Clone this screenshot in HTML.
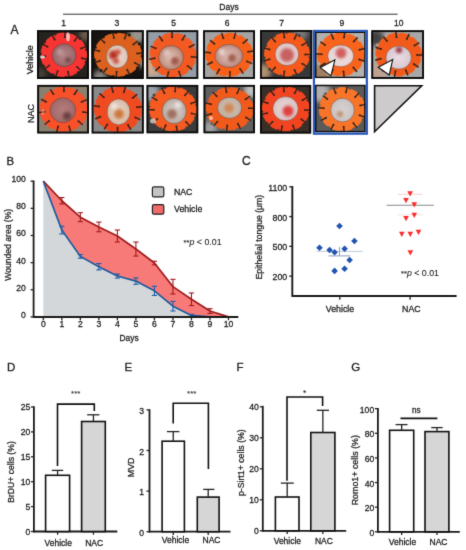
<!DOCTYPE html>
<html><head><meta charset="utf-8"><style>
html,body{margin:0;padding:0;background:#fff;width:466px;height:550px;overflow:hidden}
svg{display:block;will-change:transform}
text{font-family:"Liberation Sans", sans-serif;stroke:#222;stroke-width:0.27px}
</style></head><body>
<svg width="466" height="550" viewBox="0 0 466 550">
<defs><filter id="gblur" x="0" y="0" width="466" height="550" filterUnits="userSpaceOnUse" color-interpolation-filters="sRGB"><feConvolveMatrix order="3" kernelMatrix="0.0114 0.084 0.0114 0.084 0.618 0.084 0.0114 0.084 0.0114" divisor="1" edgeMode="duplicate"/></filter></defs>
<rect width="466" height="550" fill="#fff"/>
<g filter="url(#gblur)">
<text x="10.50" y="33.50" font-size="12.1" text-anchor="start" fill="#222" style="stroke-width:0.3px">A</text>
<text x="229.00" y="10.20" font-size="8.5" text-anchor="middle" fill="#222" >Days</text>
<line x1="63.00" y1="14.20" x2="397.60" y2="14.20" stroke="#333" stroke-width="1.0" />
<text x="63.50" y="25.80" font-size="8.5" text-anchor="middle" fill="#222" >1</text>
<text x="116.90" y="25.80" font-size="8.5" text-anchor="middle" fill="#222" >3</text>
<text x="173.60" y="25.80" font-size="8.5" text-anchor="middle" fill="#222" >5</text>
<text x="227.20" y="25.80" font-size="8.5" text-anchor="middle" fill="#222" >6</text>
<text x="281.70" y="25.80" font-size="8.5" text-anchor="middle" fill="#222" >7</text>
<text x="341.80" y="25.80" font-size="8.5" text-anchor="middle" fill="#222" >9</text>
<text x="398.70" y="25.80" font-size="8.5" text-anchor="middle" fill="#222" >10</text>
<text x="0" y="0" font-size="9" text-anchor="middle" fill="#222" transform="translate(30.00,59.70) rotate(-90)" dy="3.15">Vehicle</text>
<text x="0" y="0" font-size="9" text-anchor="middle" fill="#222" transform="translate(31.10,113.60) rotate(-90)" dy="3.15">NAC</text>
<defs><filter id="fb" x="-50%" y="-50%" width="200%" height="200%"><feGaussianBlur stdDeviation="2.5"/></filter><filter id="fs" x="-50%" y="-50%" width="200%" height="200%"><feGaussianBlur stdDeviation="1.5"/></filter>
<clipPath id="cp0"><rect x="37.0" y="30.2" width="52.00" height="48.70"/></clipPath>
<radialGradient id="cg0" cx="0.5" cy="0.5" r="0.55"><stop offset="0" stop-color="#b48488"/><stop offset="0.65" stop-color="#a17073"/><stop offset="1" stop-color="#8e5c5e"/></radialGradient>
<clipPath id="ci0"><ellipse cx="64.1" cy="55.2" rx="12" ry="11.5"/></clipPath>
<clipPath id="cp1"><rect x="91.3" y="30.2" width="52.50" height="48.70"/></clipPath>
<radialGradient id="cg1" cx="0.5" cy="0.5" r="0.55"><stop offset="0" stop-color="#ecdcd0"/><stop offset="0.65" stop-color="#e2ccbe"/><stop offset="1" stop-color="#d8bcac"/></radialGradient>
<clipPath id="ci1"><ellipse cx="117.2" cy="56.5" rx="10.8" ry="11.5"/></clipPath>
<clipPath id="cp2"><rect x="146.3" y="30.2" width="52.00" height="48.70"/></clipPath>
<radialGradient id="cg2" cx="0.5" cy="0.5" r="0.55"><stop offset="0" stop-color="#e0c0b4"/><stop offset="0.65" stop-color="#c89c8e"/><stop offset="1" stop-color="#b07868"/></radialGradient>
<clipPath id="ci2"><ellipse cx="171" cy="57.6" rx="12.4" ry="12.1"/></clipPath>
<clipPath id="cp3"><rect x="203.1" y="30.2" width="51.90" height="48.70"/></clipPath>
<radialGradient id="cg3" cx="0.5" cy="0.5" r="0.55"><stop offset="0" stop-color="#e0c0b8"/><stop offset="0.65" stop-color="#c89c94"/><stop offset="1" stop-color="#b07870"/></radialGradient>
<clipPath id="ci3"><ellipse cx="228.9" cy="55.9" rx="14" ry="11.6"/></clipPath>
<clipPath id="cp4"><rect x="260.0" y="30.0" width="52.30" height="48.90"/></clipPath>
<radialGradient id="cg4" cx="0.5" cy="0.5" r="0.55"><stop offset="0" stop-color="#ead8d8"/><stop offset="0.65" stop-color="#e3cccc"/><stop offset="1" stop-color="#dcc0c0"/></radialGradient>
<clipPath id="ci4"><ellipse cx="286.9" cy="54.2" rx="11.8" ry="11.3"/></clipPath>
<clipPath id="cp5"><rect x="315.1" y="31.6" width="50.50" height="46.50"/></clipPath>
<radialGradient id="cg5" cx="0.5" cy="0.5" r="0.55"><stop offset="0" stop-color="#f0e4e4"/><stop offset="0.65" stop-color="#ead8d8"/><stop offset="1" stop-color="#e4cccc"/></radialGradient>
<clipPath id="ci5"><ellipse cx="340.7" cy="55.9" rx="13" ry="10.9"/></clipPath>
<clipPath id="cp6"><rect x="371.3" y="30.2" width="52.70" height="48.70"/></clipPath>
<radialGradient id="cg6" cx="0.5" cy="0.5" r="0.55"><stop offset="0" stop-color="#e8dce2"/><stop offset="0.65" stop-color="#decfd6"/><stop offset="1" stop-color="#d4c2ca"/></radialGradient>
<clipPath id="ci6"><ellipse cx="398.6" cy="57.6" rx="12.7" ry="11.5"/></clipPath>
<clipPath id="cp7"><rect x="37.2" y="84.9" width="51.80" height="48.60"/></clipPath>
<radialGradient id="cg7" cx="0.5" cy="0.5" r="0.55"><stop offset="0" stop-color="#b47c7c"/><stop offset="0.65" stop-color="#a76f6f"/><stop offset="1" stop-color="#9a6262"/></radialGradient>
<clipPath id="ci7"><ellipse cx="62.9" cy="110.2" rx="12.7" ry="12.4"/></clipPath>
<clipPath id="cp8"><rect x="91.6" y="84.9" width="52.20" height="48.60"/></clipPath>
<radialGradient id="cg8" cx="0.5" cy="0.5" r="0.55"><stop offset="0" stop-color="#e8d8cc"/><stop offset="0.65" stop-color="#dcc4b2"/><stop offset="1" stop-color="#d0b098"/></radialGradient>
<clipPath id="ci8"><ellipse cx="118.6" cy="111.9" rx="11.5" ry="13"/></clipPath>
<clipPath id="cp9"><rect x="146.5" y="84.9" width="51.80" height="48.40"/></clipPath>
<radialGradient id="cg9" cx="0.5" cy="0.5" r="0.55"><stop offset="0" stop-color="#d8d0cc"/><stop offset="0.65" stop-color="#c4b8b2"/><stop offset="1" stop-color="#b0a098"/></radialGradient>
<clipPath id="ci9"><ellipse cx="174.2" cy="111" rx="12.1" ry="12.7"/></clipPath>
<clipPath id="cp10"><rect x="203.5" y="84.9" width="51.50" height="48.40"/></clipPath>
<radialGradient id="cg10" cx="0.5" cy="0.5" r="0.55"><stop offset="0" stop-color="#d0c4b8"/><stop offset="0.65" stop-color="#c4b6a8"/><stop offset="1" stop-color="#b8a898"/></radialGradient>
<clipPath id="ci10"><ellipse cx="229.6" cy="107.8" rx="12.1" ry="10.6"/></clipPath>
<clipPath id="cp11"><rect x="260.0" y="84.9" width="51.20" height="48.70"/></clipPath>
<radialGradient id="cg11" cx="0.5" cy="0.5" r="0.55"><stop offset="0" stop-color="#e8d8d8"/><stop offset="0.65" stop-color="#decaca"/><stop offset="1" stop-color="#d4bcbc"/></radialGradient>
<clipPath id="ci11"><ellipse cx="285.5" cy="108.7" rx="12.7" ry="12.1"/></clipPath>
<clipPath id="cp12"><rect x="315.1" y="84.8" width="50.50" height="47.50"/></clipPath>
<radialGradient id="cg12" cx="0.5" cy="0.5" r="0.55"><stop offset="0" stop-color="#d8d2d2"/><stop offset="0.65" stop-color="#cec7c7"/><stop offset="1" stop-color="#c4bcbc"/></radialGradient>
<clipPath id="ci12"><ellipse cx="342.5" cy="110.1" rx="11.8" ry="11.8"/></clipPath>
</defs>
<g clip-path="url(#cp0)">
<rect x="37.0" y="30.2" width="52.00" height="48.70" fill="#26231f"/>
<circle cx="86" cy="34" r="7" fill="#6a5a4a" filter="url(#fb)"/>
<circle cx="40" cy="74" r="6" fill="#4a4038" filter="url(#fb)"/>
<ellipse cx="63.8" cy="54.8" rx="23.3" ry="22.3" fill="#f63432"/>
<line x1="81.93" y1="58.28" x2="86.93" y2="59.29" stroke="#221a18" stroke-width="1.5" stroke-linecap="round" opacity="0.85"/>
<circle cx="81.93" cy="58.28" r="1.0" fill="#2e2622" opacity="0.8"/>
<circle cx="86.03" cy="62.09" r="1.5" fill="#26231f" opacity="0.9"/>
<line x1="77.07" y1="67.00" x2="80.72" y2="70.55" stroke="#221a18" stroke-width="1.5" stroke-linecap="round" opacity="0.85"/>
<circle cx="77.07" cy="67.00" r="1.0" fill="#2e2622" opacity="0.8"/>
<circle cx="78.39" cy="72.44" r="1.5" fill="#26231f" opacity="0.9"/>
<line x1="67.99" y1="71.85" x2="69.14" y2="76.81" stroke="#221a18" stroke-width="1.5" stroke-linecap="round" opacity="0.85"/>
<circle cx="67.99" cy="71.85" r="1.0" fill="#2e2622" opacity="0.8"/>
<circle cx="66.11" cy="77.19" r="1.5" fill="#26231f" opacity="0.9"/>
<line x1="57.58" y1="71.28" x2="55.87" y2="76.09" stroke="#221a18" stroke-width="1.5" stroke-linecap="round" opacity="0.85"/>
<circle cx="57.58" cy="71.28" r="1.0" fill="#2e2622" opacity="0.8"/>
<circle cx="53.10" cy="74.83" r="1.5" fill="#26231f" opacity="0.9"/>
<line x1="49.15" y1="65.49" x2="45.11" y2="68.60" stroke="#221a18" stroke-width="1.5" stroke-linecap="round" opacity="0.85"/>
<circle cx="49.15" cy="65.49" r="1.0" fill="#2e2622" opacity="0.8"/>
<circle cx="43.49" cy="66.11" r="1.5" fill="#26231f" opacity="0.9"/>
<line x1="45.37" y1="56.30" x2="40.29" y2="56.73" stroke="#221a18" stroke-width="1.5" stroke-linecap="round" opacity="0.85"/>
<circle cx="45.37" cy="56.30" r="1.0" fill="#2e2622" opacity="0.8"/>
<circle cx="40.32" cy="53.80" r="1.5" fill="#26231f" opacity="0.9"/>
<line x1="47.44" y1="46.63" x2="42.93" y2="44.25" stroke="#221a18" stroke-width="1.5" stroke-linecap="round" opacity="0.85"/>
<circle cx="47.44" cy="46.63" r="1.0" fill="#2e2622" opacity="0.8"/>
<circle cx="44.61" cy="41.81" r="1.5" fill="#26231f" opacity="0.9"/>
<line x1="54.70" y1="39.56" x2="52.20" y2="35.12" stroke="#221a18" stroke-width="1.5" stroke-linecap="round" opacity="0.85"/>
<circle cx="54.70" cy="39.56" r="1.0" fill="#2e2622" opacity="0.8"/>
<circle cx="55.00" cy="33.94" r="1.5" fill="#26231f" opacity="0.9"/>
<line x1="64.86" y1="37.33" x2="65.15" y2="32.24" stroke="#221a18" stroke-width="1.5" stroke-linecap="round" opacity="0.85"/>
<circle cx="64.86" cy="37.33" r="1.0" fill="#2e2622" opacity="0.8"/>
<circle cx="68.17" cy="32.69" r="1.5" fill="#26231f" opacity="0.9"/>
<line x1="74.68" y1="40.64" x2="77.67" y2="36.52" stroke="#221a18" stroke-width="1.5" stroke-linecap="round" opacity="0.85"/>
<circle cx="74.68" cy="40.64" r="1.0" fill="#2e2622" opacity="0.8"/>
<circle cx="79.96" cy="38.47" r="1.5" fill="#26231f" opacity="0.9"/>
<line x1="81.04" y1="48.45" x2="85.79" y2="46.60" stroke="#221a18" stroke-width="1.5" stroke-linecap="round" opacity="0.85"/>
<circle cx="81.04" cy="48.45" r="1.0" fill="#2e2622" opacity="0.8"/>
<circle cx="86.62" cy="49.43" r="1.5" fill="#26231f" opacity="0.9"/>
<ellipse cx="42.5" cy="57" rx="2.6" ry="1.6" fill="#ffffff" opacity="0.75"/>
<ellipse cx="68" cy="36.7" rx="1.8" ry="4.5" fill="#ffe8e8" opacity="0.75"/>
<ellipse cx="64.1" cy="55.2" rx="12" ry="11.5" fill="url(#cg0)"/>
<g clip-path="url(#ci0)">
<circle cx="60" cy="52" r="3" fill="#c09a9a" filter="url(#fs)"/>
<circle cx="68" cy="60" r="3" fill="#7a4a4a" filter="url(#fs)"/>
</g>
<ellipse cx="64.1" cy="55.2" rx="12" ry="11.5" fill="none" stroke="#5a3830" stroke-width="0.8" opacity="0.5"/>
</g>
<rect x="37.95" y="31.15" width="50.10" height="46.80" fill="none" stroke="#0c0c0c" stroke-width="1.9"/>
<g clip-path="url(#cp1)">
<rect x="91.3" y="30.2" width="52.50" height="48.70" fill="#161412"/>
<circle cx="137" cy="35" r="9" fill="#9a948c" filter="url(#fb)"/>
<circle cx="100" cy="77" r="7" fill="#8a8480" filter="url(#fb)"/>
<circle cx="144" cy="62" r="6" fill="#b0aaa0" filter="url(#fb)"/>
<ellipse cx="118" cy="54.7" rx="24" ry="22" fill="#dc601e"/>
<line x1="134.85" y1="62.95" x2="139.33" y2="65.39" stroke="#221a18" stroke-width="1.5" stroke-linecap="round" opacity="0.85"/>
<circle cx="134.85" cy="62.95" r="1.0" fill="#2e2622" opacity="0.8"/>
<circle cx="137.55" cy="67.78" r="1.5" fill="#161412" opacity="0.9"/>
<line x1="127.20" y1="69.80" x2="129.64" y2="74.27" stroke="#221a18" stroke-width="1.5" stroke-linecap="round" opacity="0.85"/>
<circle cx="127.20" cy="69.80" r="1.0" fill="#2e2622" opacity="0.8"/>
<circle cx="126.74" cy="75.40" r="1.5" fill="#161412" opacity="0.9"/>
<line x1="116.63" y1="71.86" x2="116.26" y2="76.94" stroke="#221a18" stroke-width="1.5" stroke-linecap="round" opacity="0.85"/>
<circle cx="116.63" cy="71.86" r="1.0" fill="#2e2622" opacity="0.8"/>
<circle cx="113.15" cy="76.45" r="1.5" fill="#161412" opacity="0.9"/>
<line x1="106.49" y1="68.47" x2="103.43" y2="72.55" stroke="#221a18" stroke-width="1.5" stroke-linecap="round" opacity="0.85"/>
<circle cx="106.49" cy="68.47" r="1.0" fill="#2e2622" opacity="0.8"/>
<circle cx="101.10" cy="70.59" r="1.5" fill="#161412" opacity="0.9"/>
<line x1="100.01" y1="60.71" x2="95.23" y2="62.49" stroke="#221a18" stroke-width="1.5" stroke-linecap="round" opacity="0.85"/>
<circle cx="100.01" cy="60.71" r="1.0" fill="#2e2622" opacity="0.8"/>
<circle cx="94.42" cy="59.69" r="1.5" fill="#161412" opacity="0.9"/>
<line x1="99.24" y1="51.04" x2="94.26" y2="49.96" stroke="#221a18" stroke-width="1.5" stroke-linecap="round" opacity="0.85"/>
<circle cx="99.24" cy="51.04" r="1.0" fill="#2e2622" opacity="0.8"/>
<circle cx="95.22" cy="47.20" r="1.5" fill="#161412" opacity="0.9"/>
<line x1="104.43" y1="42.54" x2="100.82" y2="38.93" stroke="#221a18" stroke-width="1.5" stroke-linecap="round" opacity="0.85"/>
<circle cx="104.43" cy="42.54" r="1.0" fill="#2e2622" opacity="0.8"/>
<circle cx="103.25" cy="37.10" r="1.5" fill="#161412" opacity="0.9"/>
<line x1="113.92" y1="37.89" x2="112.84" y2="32.91" stroke="#221a18" stroke-width="1.5" stroke-linecap="round" opacity="0.85"/>
<circle cx="113.92" cy="37.89" r="1.0" fill="#2e2622" opacity="0.8"/>
<circle cx="115.97" cy="32.58" r="1.5" fill="#161412" opacity="0.9"/>
<line x1="124.71" y1="38.59" x2="126.50" y2="33.81" stroke="#221a18" stroke-width="1.5" stroke-linecap="round" opacity="0.85"/>
<circle cx="124.71" cy="38.59" r="1.0" fill="#2e2622" opacity="0.8"/>
<circle cx="129.33" cy="35.08" r="1.5" fill="#161412" opacity="0.9"/>
<line x1="133.37" y1="44.40" x2="137.46" y2="41.34" stroke="#221a18" stroke-width="1.5" stroke-linecap="round" opacity="0.85"/>
<circle cx="133.37" cy="44.40" r="1.0" fill="#2e2622" opacity="0.8"/>
<circle cx="139.09" cy="43.82" r="1.5" fill="#161412" opacity="0.9"/>
<line x1="137.15" y1="53.48" x2="142.24" y2="53.11" stroke="#221a18" stroke-width="1.5" stroke-linecap="round" opacity="0.85"/>
<circle cx="137.15" cy="53.48" r="1.0" fill="#2e2622" opacity="0.8"/>
<circle cx="142.16" cy="56.00" r="1.5" fill="#161412" opacity="0.9"/>
<ellipse cx="117.2" cy="56.5" rx="10.8" ry="11.5" fill="url(#cg1)"/>
<g clip-path="url(#ci1)">
<circle cx="113.5" cy="55" r="4.5" fill="#b83020" filter="url(#fs)"/>
<circle cx="118" cy="52" r="2.5" fill="#c84030" filter="url(#fs)"/>
<circle cx="116" cy="61" r="3" fill="#c85040" filter="url(#fs)"/>
</g>
<ellipse cx="117.2" cy="56.5" rx="10.8" ry="11.5" fill="none" stroke="#5a3830" stroke-width="0.8" opacity="0.5"/>
</g>
<rect x="92.25" y="31.15" width="50.60" height="46.80" fill="none" stroke="#0c0c0c" stroke-width="1.9"/>
<g clip-path="url(#cp2)">
<rect x="146.3" y="30.2" width="52.00" height="48.70" fill="#949ca6"/>
<circle cx="150" cy="64" r="12" fill="#d0a888" filter="url(#fb)"/>
<ellipse cx="173" cy="55" rx="23.5" ry="22.5" fill="#f25a22"/>
<line x1="191.61" y1="56.77" x2="196.68" y2="57.28" stroke="#221a18" stroke-width="1.5" stroke-linecap="round" opacity="0.85"/>
<circle cx="191.61" cy="56.77" r="1.0" fill="#2e2622" opacity="0.8"/>
<circle cx="196.08" cy="60.18" r="1.5" fill="#949ca6" opacity="0.9"/>
<line x1="187.64" y1="66.01" x2="191.64" y2="69.18" stroke="#221a18" stroke-width="1.5" stroke-linecap="round" opacity="0.85"/>
<circle cx="187.64" cy="66.01" r="1.0" fill="#2e2622" opacity="0.8"/>
<circle cx="189.49" cy="71.30" r="1.5" fill="#949ca6" opacity="0.9"/>
<line x1="179.03" y1="71.75" x2="180.68" y2="76.58" stroke="#221a18" stroke-width="1.5" stroke-linecap="round" opacity="0.85"/>
<circle cx="179.03" cy="71.75" r="1.0" fill="#2e2622" opacity="0.8"/>
<circle cx="177.67" cy="77.25" r="1.5" fill="#949ca6" opacity="0.9"/>
<line x1="168.50" y1="72.18" x2="167.28" y2="77.13" stroke="#221a18" stroke-width="1.5" stroke-linecap="round" opacity="0.85"/>
<circle cx="168.50" cy="72.18" r="1.0" fill="#2e2622" opacity="0.8"/>
<circle cx="164.37" cy="76.14" r="1.5" fill="#949ca6" opacity="0.9"/>
<line x1="159.40" y1="67.15" x2="155.70" y2="70.65" stroke="#221a18" stroke-width="1.5" stroke-linecap="round" opacity="0.85"/>
<circle cx="159.40" cy="67.15" r="1.0" fill="#2e2622" opacity="0.8"/>
<circle cx="153.81" cy="68.31" r="1.5" fill="#949ca6" opacity="0.9"/>
<line x1="154.62" y1="58.27" x2="149.61" y2="59.21" stroke="#221a18" stroke-width="1.5" stroke-linecap="round" opacity="0.85"/>
<circle cx="154.62" cy="58.27" r="1.0" fill="#2e2622" opacity="0.8"/>
<circle cx="149.34" cy="56.26" r="1.5" fill="#949ca6" opacity="0.9"/>
<line x1="155.67" y1="48.34" x2="150.95" y2="46.42" stroke="#221a18" stroke-width="1.5" stroke-linecap="round" opacity="0.85"/>
<circle cx="155.67" cy="48.34" r="1.0" fill="#2e2622" opacity="0.8"/>
<circle cx="152.38" cy="43.81" r="1.5" fill="#949ca6" opacity="0.9"/>
<line x1="162.23" y1="40.53" x2="159.29" y2="36.36" stroke="#221a18" stroke-width="1.5" stroke-linecap="round" opacity="0.85"/>
<circle cx="162.23" cy="40.53" r="1.0" fill="#2e2622" opacity="0.8"/>
<circle cx="161.97" cy="34.91" r="1.5" fill="#949ca6" opacity="0.9"/>
<line x1="172.20" y1="37.32" x2="171.98" y2="32.22" stroke="#221a18" stroke-width="1.5" stroke-linecap="round" opacity="0.85"/>
<circle cx="172.20" cy="37.32" r="1.0" fill="#2e2622" opacity="0.8"/>
<circle cx="175.06" cy="32.39" r="1.5" fill="#949ca6" opacity="0.9"/>
<line x1="182.43" y1="39.71" x2="185.00" y2="35.31" stroke="#221a18" stroke-width="1.5" stroke-linecap="round" opacity="0.85"/>
<circle cx="182.43" cy="39.71" r="1.0" fill="#2e2622" opacity="0.8"/>
<circle cx="187.50" cy="37.04" r="1.5" fill="#949ca6" opacity="0.9"/>
<line x1="189.66" y1="46.97" x2="194.21" y2="44.65" stroke="#221a18" stroke-width="1.5" stroke-linecap="round" opacity="0.85"/>
<circle cx="189.66" cy="46.97" r="1.0" fill="#2e2622" opacity="0.8"/>
<circle cx="195.33" cy="47.40" r="1.5" fill="#949ca6" opacity="0.9"/>
<ellipse cx="171" cy="57.6" rx="12.4" ry="12.1" fill="url(#cg2)"/>
<g clip-path="url(#ci2)">
<circle cx="167" cy="53" r="3" fill="#e0c8c0" filter="url(#fs)"/>
<circle cx="175" cy="61" r="4" fill="#a05848" filter="url(#fs)"/>
</g>
<ellipse cx="171" cy="57.6" rx="12.4" ry="12.1" fill="none" stroke="#5a3830" stroke-width="0.8" opacity="0.5"/>
</g>
<rect x="147.25" y="31.15" width="50.10" height="46.80" fill="none" stroke="#0c0c0c" stroke-width="1.9"/>
<g clip-path="url(#cp3)">
<rect x="203.1" y="30.2" width="51.90" height="48.70" fill="#a4a4a4"/>
<circle cx="222" cy="80" r="10" fill="#b09070" filter="url(#fb)"/>
<ellipse cx="229.3" cy="54.7" rx="24" ry="22" fill="#f8601a"/>
<line x1="246.98" y1="61.40" x2="251.68" y2="63.38" stroke="#221a18" stroke-width="1.5" stroke-linecap="round" opacity="0.85"/>
<circle cx="246.98" cy="61.40" r="1.0" fill="#2e2622" opacity="0.8"/>
<circle cx="250.18" cy="65.92" r="1.5" fill="#a4a4a4" opacity="0.9"/>
<line x1="240.13" y1="68.90" x2="243.01" y2="73.11" stroke="#221a18" stroke-width="1.5" stroke-linecap="round" opacity="0.85"/>
<circle cx="240.13" cy="68.90" r="1.0" fill="#2e2622" opacity="0.8"/>
<circle cx="240.25" cy="74.50" r="1.5" fill="#a4a4a4" opacity="0.9"/>
<line x1="229.85" y1="71.89" x2="229.99" y2="76.99" stroke="#221a18" stroke-width="1.5" stroke-linecap="round" opacity="0.85"/>
<circle cx="229.85" cy="71.89" r="1.0" fill="#2e2622" opacity="0.8"/>
<circle cx="226.85" cy="76.79" r="1.5" fill="#a4a4a4" opacity="0.9"/>
<line x1="219.38" y1="69.43" x2="216.75" y2="73.79" stroke="#221a18" stroke-width="1.5" stroke-linecap="round" opacity="0.85"/>
<circle cx="219.38" cy="69.43" r="1.0" fill="#2e2622" opacity="0.8"/>
<circle cx="214.22" cy="72.06" r="1.5" fill="#a4a4a4" opacity="0.9"/>
<line x1="212.07" y1="62.29" x2="207.49" y2="64.54" stroke="#221a18" stroke-width="1.5" stroke-linecap="round" opacity="0.85"/>
<circle cx="212.07" cy="62.29" r="1.0" fill="#2e2622" opacity="0.8"/>
<circle cx="206.38" cy="61.83" r="1.5" fill="#a4a4a4" opacity="0.9"/>
<line x1="210.23" y1="52.74" x2="205.16" y2="52.15" stroke="#221a18" stroke-width="1.5" stroke-linecap="round" opacity="0.85"/>
<circle cx="210.23" cy="52.74" r="1.0" fill="#2e2622" opacity="0.8"/>
<circle cx="205.82" cy="49.33" r="1.5" fill="#a4a4a4" opacity="0.9"/>
<line x1="214.44" y1="43.81" x2="210.49" y2="40.58" stroke="#221a18" stroke-width="1.5" stroke-linecap="round" opacity="0.85"/>
<circle cx="214.44" cy="43.81" r="1.0" fill="#2e2622" opacity="0.8"/>
<circle cx="212.71" cy="38.54" r="1.5" fill="#a4a4a4" opacity="0.9"/>
<line x1="223.37" y1="38.34" x2="221.79" y2="33.49" stroke="#221a18" stroke-width="1.5" stroke-linecap="round" opacity="0.85"/>
<circle cx="223.37" cy="38.34" r="1.0" fill="#2e2622" opacity="0.8"/>
<circle cx="224.87" cy="32.87" r="1.5" fill="#a4a4a4" opacity="0.9"/>
<line x1="234.18" y1="38.07" x2="235.48" y2="33.13" stroke="#221a18" stroke-width="1.5" stroke-linecap="round" opacity="0.85"/>
<circle cx="234.18" cy="38.07" r="1.0" fill="#2e2622" opacity="0.8"/>
<circle cx="238.44" cy="34.14" r="1.5" fill="#a4a4a4" opacity="0.9"/>
<line x1="243.45" y1="43.07" x2="247.21" y2="39.62" stroke="#221a18" stroke-width="1.5" stroke-linecap="round" opacity="0.85"/>
<circle cx="243.45" cy="43.07" r="1.0" fill="#2e2622" opacity="0.8"/>
<circle cx="249.10" cy="41.94" r="1.5" fill="#a4a4a4" opacity="0.9"/>
<line x1="248.22" y1="51.77" x2="253.24" y2="50.90" stroke="#221a18" stroke-width="1.5" stroke-linecap="round" opacity="0.85"/>
<circle cx="248.22" cy="51.77" r="1.0" fill="#2e2622" opacity="0.8"/>
<circle cx="253.48" cy="53.79" r="1.5" fill="#a4a4a4" opacity="0.9"/>
<ellipse cx="228.9" cy="55.9" rx="14" ry="11.6" fill="url(#cg3)"/>
<g clip-path="url(#ci3)">
<circle cx="222" cy="52" r="3" fill="#e8d8d0" filter="url(#fs)"/>
<circle cx="232" cy="58" r="4" fill="#a06050" filter="url(#fs)"/>
</g>
<ellipse cx="228.9" cy="55.9" rx="14" ry="11.6" fill="none" stroke="#5a3830" stroke-width="0.8" opacity="0.5"/>
</g>
<rect x="204.05" y="31.15" width="50.00" height="46.80" fill="none" stroke="#0c0c0c" stroke-width="1.9"/>
<g clip-path="url(#cp4)">
<rect x="260.0" y="30.0" width="52.30" height="48.90" fill="#383838"/>
<circle cx="263" cy="72" r="8" fill="#b09070" filter="url(#fb)"/>
<circle cx="300" cy="33" r="8" fill="#787878" filter="url(#fb)"/>
<ellipse cx="287" cy="54.4" rx="23" ry="22" fill="#f55a1c"/>
<line x1="305.20" y1="54.40" x2="310.30" y2="54.40" stroke="#221a18" stroke-width="1.5" stroke-linecap="round" opacity="0.85"/>
<circle cx="305.20" cy="54.40" r="1.0" fill="#2e2622" opacity="0.8"/>
<circle cx="310.00" cy="57.28" r="1.5" fill="#383838" opacity="0.9"/>
<line x1="302.31" y1="63.70" x2="306.60" y2="66.46" stroke="#221a18" stroke-width="1.5" stroke-linecap="round" opacity="0.85"/>
<circle cx="302.31" cy="63.70" r="1.0" fill="#2e2622" opacity="0.8"/>
<circle cx="304.73" cy="68.72" r="1.5" fill="#383838" opacity="0.9"/>
<line x1="294.56" y1="70.05" x2="296.68" y2="74.68" stroke="#221a18" stroke-width="1.5" stroke-linecap="round" opacity="0.85"/>
<circle cx="294.56" cy="70.05" r="1.0" fill="#2e2622" opacity="0.8"/>
<circle cx="293.82" cy="75.62" r="1.5" fill="#383838" opacity="0.9"/>
<line x1="284.41" y1="71.42" x2="283.68" y2="76.47" stroke="#221a18" stroke-width="1.5" stroke-linecap="round" opacity="0.85"/>
<circle cx="284.41" cy="71.42" r="1.0" fill="#2e2622" opacity="0.8"/>
<circle cx="280.75" cy="75.78" r="1.5" fill="#383838" opacity="0.9"/>
<line x1="275.08" y1="67.40" x2="271.74" y2="71.25" stroke="#221a18" stroke-width="1.5" stroke-linecap="round" opacity="0.85"/>
<circle cx="275.08" cy="67.40" r="1.0" fill="#2e2622" opacity="0.8"/>
<circle cx="269.66" cy="69.15" r="1.5" fill="#383838" opacity="0.9"/>
<line x1="269.54" y1="59.25" x2="264.64" y2="60.68" stroke="#221a18" stroke-width="1.5" stroke-linecap="round" opacity="0.85"/>
<circle cx="269.54" cy="59.25" r="1.0" fill="#2e2622" opacity="0.8"/>
<circle cx="264.08" cy="57.84" r="1.5" fill="#383838" opacity="0.9"/>
<line x1="269.54" y1="49.55" x2="264.64" y2="48.12" stroke="#221a18" stroke-width="1.5" stroke-linecap="round" opacity="0.85"/>
<circle cx="269.54" cy="49.55" r="1.0" fill="#2e2622" opacity="0.8"/>
<circle cx="265.77" cy="45.44" r="1.5" fill="#383838" opacity="0.9"/>
<line x1="275.08" y1="41.40" x2="271.74" y2="37.55" stroke="#221a18" stroke-width="1.5" stroke-linecap="round" opacity="0.85"/>
<circle cx="275.08" cy="41.40" r="1.0" fill="#2e2622" opacity="0.8"/>
<circle cx="274.21" cy="35.88" r="1.5" fill="#383838" opacity="0.9"/>
<line x1="284.41" y1="37.38" x2="283.68" y2="32.33" stroke="#221a18" stroke-width="1.5" stroke-linecap="round" opacity="0.85"/>
<circle cx="284.41" cy="37.38" r="1.0" fill="#2e2622" opacity="0.8"/>
<circle cx="286.70" cy="32.20" r="1.5" fill="#383838" opacity="0.9"/>
<line x1="294.56" y1="38.75" x2="296.68" y2="34.12" stroke="#221a18" stroke-width="1.5" stroke-linecap="round" opacity="0.85"/>
<circle cx="294.56" cy="38.75" r="1.0" fill="#2e2622" opacity="0.8"/>
<circle cx="299.29" cy="35.57" r="1.5" fill="#383838" opacity="0.9"/>
<line x1="302.31" y1="45.10" x2="306.60" y2="42.34" stroke="#221a18" stroke-width="1.5" stroke-linecap="round" opacity="0.85"/>
<circle cx="302.31" cy="45.10" r="1.0" fill="#2e2622" opacity="0.8"/>
<circle cx="307.98" cy="44.92" r="1.5" fill="#383838" opacity="0.9"/>
<ellipse cx="286.9" cy="54.2" rx="11.8" ry="11.3" fill="url(#cg4)"/>
<g clip-path="url(#ci4)">
<circle cx="287" cy="55" r="7" fill="#c86060" filter="url(#fs)"/>
</g>
<ellipse cx="286.9" cy="54.2" rx="11.8" ry="11.3" fill="none" stroke="#5a3830" stroke-width="0.8" opacity="0.5"/>
</g>
<rect x="260.95" y="30.95" width="50.40" height="47.00" fill="none" stroke="#0c0c0c" stroke-width="1.9"/>
<g clip-path="url(#cp5)">
<rect x="315.1" y="31.6" width="50.50" height="46.50" fill="#b0b0b0"/>
<circle cx="320" cy="74" r="10" fill="#a08060" filter="url(#fb)"/>
<ellipse cx="341" cy="54.4" rx="24" ry="22" fill="#f8641c"/>
<line x1="359.34" y1="59.48" x2="364.21" y2="60.99" stroke="#221a18" stroke-width="1.5" stroke-linecap="round" opacity="0.85"/>
<circle cx="359.34" cy="59.48" r="1.0" fill="#2e2622" opacity="0.8"/>
<circle cx="363.00" cy="63.65" r="1.5" fill="#b0b0b0" opacity="0.9"/>
<line x1="353.36" y1="67.56" x2="356.65" y2="71.46" stroke="#221a18" stroke-width="1.5" stroke-linecap="round" opacity="0.85"/>
<circle cx="353.36" cy="67.56" r="1.0" fill="#2e2622" opacity="0.8"/>
<circle cx="354.05" cy="73.10" r="1.5" fill="#b0b0b0" opacity="0.9"/>
<line x1="343.46" y1="71.46" x2="344.11" y2="76.52" stroke="#221a18" stroke-width="1.5" stroke-linecap="round" opacity="0.85"/>
<circle cx="343.46" cy="71.46" r="1.0" fill="#2e2622" opacity="0.8"/>
<circle cx="340.96" cy="76.60" r="1.5" fill="#b0b0b0" opacity="0.9"/>
<line x1="332.77" y1="69.94" x2="330.59" y2="74.55" stroke="#221a18" stroke-width="1.5" stroke-linecap="round" opacity="0.85"/>
<circle cx="332.77" cy="69.94" r="1.0" fill="#2e2622" opacity="0.8"/>
<circle cx="327.88" cy="73.06" r="1.5" fill="#b0b0b0" opacity="0.9"/>
<line x1="324.70" y1="63.49" x2="320.37" y2="66.18" stroke="#221a18" stroke-width="1.5" stroke-linecap="round" opacity="0.85"/>
<circle cx="324.70" cy="63.49" r="1.0" fill="#2e2622" opacity="0.8"/>
<circle cx="318.97" cy="63.59" r="1.5" fill="#b0b0b0" opacity="0.9"/>
<line x1="321.80" y1="54.15" x2="316.70" y2="54.08" stroke="#221a18" stroke-width="1.5" stroke-linecap="round" opacity="0.85"/>
<circle cx="321.80" cy="54.15" r="1.0" fill="#2e2622" opacity="0.8"/>
<circle cx="317.05" cy="51.21" r="1.5" fill="#b0b0b0" opacity="0.9"/>
<line x1="325.00" y1="44.89" x2="320.75" y2="42.07" stroke="#221a18" stroke-width="1.5" stroke-linecap="round" opacity="0.85"/>
<circle cx="325.00" cy="44.89" r="1.0" fill="#2e2622" opacity="0.8"/>
<circle cx="322.74" cy="39.84" r="1.5" fill="#b0b0b0" opacity="0.9"/>
<line x1="333.28" y1="38.65" x2="331.22" y2="33.98" stroke="#221a18" stroke-width="1.5" stroke-linecap="round" opacity="0.85"/>
<circle cx="333.28" cy="38.65" r="1.0" fill="#2e2622" opacity="0.8"/>
<circle cx="334.22" cy="33.09" r="1.5" fill="#b0b0b0" opacity="0.9"/>
<line x1="344.01" y1="37.41" x2="344.80" y2="32.37" stroke="#221a18" stroke-width="1.5" stroke-linecap="round" opacity="0.85"/>
<circle cx="344.01" cy="37.41" r="1.0" fill="#2e2622" opacity="0.8"/>
<circle cx="347.86" cy="33.11" r="1.5" fill="#b0b0b0" opacity="0.9"/>
<line x1="353.78" y1="41.56" x2="357.18" y2="37.76" stroke="#221a18" stroke-width="1.5" stroke-linecap="round" opacity="0.85"/>
<circle cx="353.78" cy="41.56" r="1.0" fill="#2e2622" opacity="0.8"/>
<circle cx="359.31" cy="39.89" r="1.5" fill="#b0b0b0" opacity="0.9"/>
<line x1="359.50" y1="49.79" x2="364.41" y2="48.43" stroke="#221a18" stroke-width="1.5" stroke-linecap="round" opacity="0.85"/>
<circle cx="359.50" cy="49.79" r="1.0" fill="#2e2622" opacity="0.8"/>
<circle cx="364.96" cy="51.28" r="1.5" fill="#b0b0b0" opacity="0.9"/>
<ellipse cx="340.7" cy="55.9" rx="13" ry="10.9" fill="url(#cg5)"/>
<g clip-path="url(#ci5)">
<circle cx="341" cy="53" r="5.5" fill="#d06060" filter="url(#fs)"/>
</g>
<ellipse cx="340.7" cy="55.9" rx="13" ry="10.9" fill="none" stroke="#5a3830" stroke-width="0.8" opacity="0.5"/>
</g>
<rect x="315.80" y="32.30" width="49.10" height="45.10" fill="none" stroke="#0c0c0c" stroke-width="1.4"/>
<g clip-path="url(#cp6)">
<rect x="371.3" y="30.2" width="52.70" height="48.70" fill="#a8a8a8"/>
<circle cx="376" cy="38" r="8" fill="#404040" filter="url(#fb)"/>
<circle cx="378" cy="72" r="8" fill="#c0a090" filter="url(#fb)"/>
<ellipse cx="398.6" cy="54.4" rx="23.3" ry="22" fill="#f25a1a"/>
<line x1="413.87" y1="64.11" x2="418.08" y2="66.99" stroke="#221a18" stroke-width="1.5" stroke-linecap="round" opacity="0.85"/>
<circle cx="413.87" cy="64.11" r="1.0" fill="#2e2622" opacity="0.8"/>
<circle cx="416.11" cy="69.20" r="1.5" fill="#a8a8a8" opacity="0.9"/>
<line x1="405.80" y1="70.24" x2="407.78" y2="74.94" stroke="#221a18" stroke-width="1.5" stroke-linecap="round" opacity="0.85"/>
<circle cx="405.80" cy="70.24" r="1.0" fill="#2e2622" opacity="0.8"/>
<circle cx="404.86" cy="75.80" r="1.5" fill="#a8a8a8" opacity="0.9"/>
<line x1="395.44" y1="71.35" x2="394.57" y2="76.37" stroke="#221a18" stroke-width="1.5" stroke-linecap="round" opacity="0.85"/>
<circle cx="395.44" cy="71.35" r="1.0" fill="#2e2622" opacity="0.8"/>
<circle cx="391.62" cy="75.60" r="1.5" fill="#a8a8a8" opacity="0.9"/>
<line x1="386.09" y1="67.07" x2="382.64" y2="70.83" stroke="#221a18" stroke-width="1.5" stroke-linecap="round" opacity="0.85"/>
<circle cx="386.09" cy="67.07" r="1.0" fill="#2e2622" opacity="0.8"/>
<circle cx="380.60" cy="68.67" r="1.5" fill="#a8a8a8" opacity="0.9"/>
<line x1="380.71" y1="58.77" x2="375.77" y2="60.06" stroke="#221a18" stroke-width="1.5" stroke-linecap="round" opacity="0.85"/>
<circle cx="380.71" cy="58.77" r="1.0" fill="#2e2622" opacity="0.8"/>
<circle cx="375.29" cy="57.21" r="1.5" fill="#a8a8a8" opacity="0.9"/>
<line x1="381.01" y1="49.08" x2="376.16" y2="47.50" stroke="#221a18" stroke-width="1.5" stroke-linecap="round" opacity="0.85"/>
<circle cx="381.01" cy="49.08" r="1.0" fill="#2e2622" opacity="0.8"/>
<circle cx="377.38" cy="44.86" r="1.5" fill="#a8a8a8" opacity="0.9"/>
<line x1="386.89" y1="41.08" x2="383.67" y2="37.13" stroke="#221a18" stroke-width="1.5" stroke-linecap="round" opacity="0.85"/>
<circle cx="386.89" cy="41.08" r="1.0" fill="#2e2622" opacity="0.8"/>
<circle cx="386.21" cy="35.53" r="1.5" fill="#a8a8a8" opacity="0.9"/>
<line x1="396.50" y1="37.31" x2="395.92" y2="32.24" stroke="#221a18" stroke-width="1.5" stroke-linecap="round" opacity="0.85"/>
<circle cx="396.50" cy="37.31" r="1.0" fill="#2e2622" opacity="0.8"/>
<circle cx="398.98" cy="32.20" r="1.5" fill="#a8a8a8" opacity="0.9"/>
<line x1="406.77" y1="38.97" x2="409.02" y2="34.39" stroke="#221a18" stroke-width="1.5" stroke-linecap="round" opacity="0.85"/>
<circle cx="406.77" cy="38.97" r="1.0" fill="#2e2622" opacity="0.8"/>
<circle cx="411.62" cy="35.92" r="1.5" fill="#a8a8a8" opacity="0.9"/>
<line x1="414.44" y1="45.52" x2="418.81" y2="42.89" stroke="#221a18" stroke-width="1.5" stroke-linecap="round" opacity="0.85"/>
<circle cx="414.44" cy="45.52" r="1.0" fill="#2e2622" opacity="0.8"/>
<circle cx="420.13" cy="45.50" r="1.5" fill="#a8a8a8" opacity="0.9"/>
<line x1="417.09" y1="54.90" x2="422.19" y2="55.04" stroke="#221a18" stroke-width="1.5" stroke-linecap="round" opacity="0.85"/>
<circle cx="417.09" cy="54.90" r="1.0" fill="#2e2622" opacity="0.8"/>
<circle cx="421.80" cy="57.91" r="1.5" fill="#a8a8a8" opacity="0.9"/>
<ellipse cx="398.6" cy="57.6" rx="12.7" ry="11.5" fill="url(#cg6)"/>
<g clip-path="url(#ci6)">
<circle cx="399" cy="50" r="3.2" fill="#a03848" filter="url(#fs)"/>
</g>
<ellipse cx="398.6" cy="57.6" rx="12.7" ry="11.5" fill="none" stroke="#5a3830" stroke-width="0.8" opacity="0.5"/>
</g>
<rect x="372.25" y="31.15" width="50.80" height="46.80" fill="none" stroke="#0c0c0c" stroke-width="1.9"/>
<g clip-path="url(#cp7)">
<rect x="37.2" y="84.9" width="51.80" height="48.60" fill="#8a8070"/>
<ellipse cx="63.8" cy="109.3" rx="24.3" ry="22.8" fill="#f85028"/>
<line x1="83.08" y1="111.99" x2="88.12" y2="112.75" stroke="#221a18" stroke-width="1.5" stroke-linecap="round" opacity="0.85"/>
<circle cx="83.08" cy="111.99" r="1.0" fill="#2e2622" opacity="0.8"/>
<circle cx="87.35" cy="115.66" r="1.5" fill="#8a8070" opacity="0.9"/>
<line x1="78.44" y1="121.19" x2="82.27" y2="124.55" stroke="#221a18" stroke-width="1.5" stroke-linecap="round" opacity="0.85"/>
<circle cx="78.44" cy="121.19" r="1.0" fill="#2e2622" opacity="0.8"/>
<circle cx="79.95" cy="126.60" r="1.5" fill="#8a8070" opacity="0.9"/>
<line x1="69.16" y1="126.61" x2="70.56" y2="131.51" stroke="#221a18" stroke-width="1.5" stroke-linecap="round" opacity="0.85"/>
<circle cx="69.16" cy="126.61" r="1.0" fill="#2e2622" opacity="0.8"/>
<circle cx="67.42" cy="132.05" r="1.5" fill="#8a8070" opacity="0.9"/>
<line x1="58.17" y1="126.53" x2="56.70" y2="131.42" stroke="#221a18" stroke-width="1.5" stroke-linecap="round" opacity="0.85"/>
<circle cx="58.17" cy="126.53" r="1.0" fill="#2e2622" opacity="0.8"/>
<circle cx="53.75" cy="130.27" r="1.5" fill="#8a8070" opacity="0.9"/>
<line x1="48.97" y1="120.99" x2="45.09" y2="124.30" stroke="#221a18" stroke-width="1.5" stroke-linecap="round" opacity="0.85"/>
<circle cx="48.97" cy="120.99" r="1.0" fill="#2e2622" opacity="0.8"/>
<circle cx="43.26" cy="121.84" r="1.5" fill="#8a8070" opacity="0.9"/>
<line x1="44.48" y1="111.73" x2="39.43" y2="112.42" stroke="#221a18" stroke-width="1.5" stroke-linecap="round" opacity="0.85"/>
<circle cx="44.48" cy="111.73" r="1.0" fill="#2e2622" opacity="0.8"/>
<circle cx="39.30" cy="109.43" r="1.5" fill="#8a8070" opacity="0.9"/>
<line x1="46.12" y1="101.70" x2="41.50" y2="99.55" stroke="#221a18" stroke-width="1.5" stroke-linecap="round" opacity="0.85"/>
<circle cx="46.12" cy="101.70" r="1.0" fill="#2e2622" opacity="0.8"/>
<circle cx="43.12" cy="96.97" r="1.5" fill="#8a8070" opacity="0.9"/>
<line x1="53.38" y1="94.09" x2="50.65" y2="89.78" stroke="#221a18" stroke-width="1.5" stroke-linecap="round" opacity="0.85"/>
<circle cx="53.38" cy="94.09" r="1.0" fill="#2e2622" opacity="0.8"/>
<circle cx="53.50" cy="88.43" r="1.5" fill="#8a8070" opacity="0.9"/>
<line x1="63.94" y1="91.30" x2="63.98" y2="86.20" stroke="#221a18" stroke-width="1.5" stroke-linecap="round" opacity="0.85"/>
<circle cx="63.94" cy="91.30" r="1.0" fill="#2e2622" opacity="0.8"/>
<circle cx="67.15" cy="86.52" r="1.5" fill="#8a8070" opacity="0.9"/>
<line x1="74.46" y1="94.23" x2="77.25" y2="89.96" stroke="#221a18" stroke-width="1.5" stroke-linecap="round" opacity="0.85"/>
<circle cx="74.46" cy="94.23" r="1.0" fill="#2e2622" opacity="0.8"/>
<circle cx="79.74" cy="91.83" r="1.5" fill="#8a8070" opacity="0.9"/>
<line x1="81.60" y1="101.94" x2="86.25" y2="99.86" stroke="#221a18" stroke-width="1.5" stroke-linecap="round" opacity="0.85"/>
<circle cx="81.60" cy="101.94" r="1.0" fill="#2e2622" opacity="0.8"/>
<circle cx="87.27" cy="102.70" r="1.5" fill="#8a8070" opacity="0.9"/>
<ellipse cx="43" cy="112" rx="1.5" ry="3" fill="#ffd0c0" opacity="0.4"/>
<ellipse cx="62.9" cy="110.2" rx="12.7" ry="12.4" fill="url(#cg7)"/>
<g clip-path="url(#ci7)">
<circle cx="67" cy="116" r="4" fill="#6a4040" filter="url(#fs)"/>
</g>
<ellipse cx="62.9" cy="110.2" rx="12.7" ry="12.4" fill="none" stroke="#5a3830" stroke-width="0.8" opacity="0.5"/>
</g>
<rect x="38.15" y="85.85" width="49.90" height="46.70" fill="none" stroke="#0c0c0c" stroke-width="1.9"/>
<g clip-path="url(#cp8)">
<rect x="91.6" y="84.9" width="52.20" height="48.60" fill="#8a8a8a"/>
<ellipse cx="118" cy="109.5" rx="24" ry="23" fill="#f04a20"/>
<line x1="135.29" y1="117.42" x2="139.88" y2="119.63" stroke="#221a18" stroke-width="1.5" stroke-linecap="round" opacity="0.85"/>
<circle cx="135.29" cy="117.42" r="1.0" fill="#2e2622" opacity="0.8"/>
<circle cx="138.24" cy="122.21" r="1.5" fill="#8a8a8a" opacity="0.9"/>
<line x1="128.03" y1="125.02" x2="130.69" y2="129.37" stroke="#221a18" stroke-width="1.5" stroke-linecap="round" opacity="0.85"/>
<circle cx="128.03" cy="125.02" r="1.0" fill="#2e2622" opacity="0.8"/>
<circle cx="127.86" cy="130.69" r="1.5" fill="#8a8a8a" opacity="0.9"/>
<line x1="117.59" y1="127.70" x2="117.48" y2="132.79" stroke="#221a18" stroke-width="1.5" stroke-linecap="round" opacity="0.85"/>
<circle cx="117.59" cy="127.70" r="1.0" fill="#2e2622" opacity="0.8"/>
<circle cx="114.35" cy="132.43" r="1.5" fill="#8a8a8a" opacity="0.9"/>
<line x1="107.27" y1="124.59" x2="104.42" y2="128.82" stroke="#221a18" stroke-width="1.5" stroke-linecap="round" opacity="0.85"/>
<circle cx="107.27" cy="124.59" r="1.0" fill="#2e2622" opacity="0.8"/>
<circle cx="101.99" cy="126.90" r="1.5" fill="#8a8a8a" opacity="0.9"/>
<line x1="100.37" y1="116.70" x2="95.68" y2="118.72" stroke="#221a18" stroke-width="1.5" stroke-linecap="round" opacity="0.85"/>
<circle cx="100.37" cy="116.70" r="1.0" fill="#2e2622" opacity="0.8"/>
<circle cx="94.72" cy="115.84" r="1.5" fill="#8a8a8a" opacity="0.9"/>
<line x1="99.06" y1="106.52" x2="94.03" y2="105.69" stroke="#221a18" stroke-width="1.5" stroke-linecap="round" opacity="0.85"/>
<circle cx="99.06" cy="106.52" r="1.0" fill="#2e2622" opacity="0.8"/>
<circle cx="94.84" cy="102.77" r="1.5" fill="#8a8a8a" opacity="0.9"/>
<line x1="103.76" y1="97.29" x2="99.98" y2="93.86" stroke="#221a18" stroke-width="1.5" stroke-linecap="round" opacity="0.85"/>
<circle cx="103.76" cy="97.29" r="1.0" fill="#2e2622" opacity="0.8"/>
<circle cx="102.31" cy="91.83" r="1.5" fill="#8a8a8a" opacity="0.9"/>
<line x1="112.99" y1="91.93" x2="111.66" y2="87.01" stroke="#221a18" stroke-width="1.5" stroke-linecap="round" opacity="0.85"/>
<circle cx="112.99" cy="91.93" r="1.0" fill="#2e2622" opacity="0.8"/>
<circle cx="114.77" cy="86.51" r="1.5" fill="#8a8a8a" opacity="0.9"/>
<line x1="123.81" y1="92.15" x2="125.35" y2="87.29" stroke="#221a18" stroke-width="1.5" stroke-linecap="round" opacity="0.85"/>
<circle cx="123.81" cy="92.15" r="1.0" fill="#2e2622" opacity="0.8"/>
<circle cx="128.25" cy="88.48" r="1.5" fill="#8a8a8a" opacity="0.9"/>
<line x1="132.78" y1="97.88" x2="136.70" y2="94.63" stroke="#221a18" stroke-width="1.5" stroke-linecap="round" opacity="0.85"/>
<circle cx="132.78" cy="97.88" r="1.0" fill="#2e2622" opacity="0.8"/>
<circle cx="138.47" cy="97.13" r="1.5" fill="#8a8a8a" opacity="0.9"/>
<line x1="137.06" y1="107.30" x2="142.12" y2="106.68" stroke="#221a18" stroke-width="1.5" stroke-linecap="round" opacity="0.85"/>
<circle cx="137.06" cy="107.30" r="1.0" fill="#2e2622" opacity="0.8"/>
<circle cx="142.20" cy="109.70" r="1.5" fill="#8a8a8a" opacity="0.9"/>
<ellipse cx="118.6" cy="111.9" rx="11.5" ry="13" fill="url(#cg8)"/>
<g clip-path="url(#ci8)">
<circle cx="119" cy="114" r="5" fill="#d07840" filter="url(#fs)"/>
<circle cx="114" cy="106" r="3" fill="#f0e8e0" filter="url(#fs)"/>
</g>
<ellipse cx="118.6" cy="111.9" rx="11.5" ry="13" fill="none" stroke="#5a3830" stroke-width="0.8" opacity="0.5"/>
</g>
<rect x="92.55" y="85.85" width="50.30" height="46.70" fill="none" stroke="#0c0c0c" stroke-width="1.9"/>
<g clip-path="url(#cp9)">
<rect x="146.5" y="84.9" width="51.80" height="48.40" fill="#3c3c3c"/>
<circle cx="150" cy="92" r="10" fill="#9aa0a8" filter="url(#fb)"/>
<ellipse cx="173" cy="109" rx="24" ry="22.5" fill="#f55a20"/>
<line x1="191.60" y1="113.38" x2="196.54" y2="114.64" stroke="#221a18" stroke-width="1.5" stroke-linecap="round" opacity="0.85"/>
<circle cx="191.60" cy="113.38" r="1.0" fill="#2e2622" opacity="0.8"/>
<circle cx="195.47" cy="117.42" r="1.5" fill="#3c3c3c" opacity="0.9"/>
<line x1="186.08" y1="121.96" x2="189.56" y2="125.69" stroke="#221a18" stroke-width="1.5" stroke-linecap="round" opacity="0.85"/>
<circle cx="186.08" cy="121.96" r="1.0" fill="#2e2622" opacity="0.8"/>
<circle cx="187.05" cy="127.48" r="1.5" fill="#3c3c3c" opacity="0.9"/>
<line x1="176.41" y1="126.42" x2="177.31" y2="131.44" stroke="#221a18" stroke-width="1.5" stroke-linecap="round" opacity="0.85"/>
<circle cx="176.41" cy="126.42" r="1.0" fill="#2e2622" opacity="0.8"/>
<circle cx="174.17" cy="131.67" r="1.5" fill="#3c3c3c" opacity="0.9"/>
<line x1="165.65" y1="125.35" x2="163.70" y2="130.06" stroke="#221a18" stroke-width="1.5" stroke-linecap="round" opacity="0.85"/>
<circle cx="165.65" cy="125.35" r="1.0" fill="#2e2622" opacity="0.8"/>
<circle cx="160.92" cy="128.67" r="1.5" fill="#3c3c3c" opacity="0.9"/>
<line x1="157.23" y1="119.09" x2="153.04" y2="122.00" stroke="#221a18" stroke-width="1.5" stroke-linecap="round" opacity="0.85"/>
<circle cx="157.23" cy="119.09" r="1.0" fill="#2e2622" opacity="0.8"/>
<circle cx="151.50" cy="119.42" r="1.5" fill="#3c3c3c" opacity="0.9"/>
<line x1="153.81" y1="109.63" x2="148.72" y2="109.81" stroke="#221a18" stroke-width="1.5" stroke-linecap="round" opacity="0.85"/>
<circle cx="153.81" cy="109.63" r="1.0" fill="#2e2622" opacity="0.8"/>
<circle cx="148.91" cy="106.86" r="1.5" fill="#3c3c3c" opacity="0.9"/>
<line x1="156.49" y1="99.97" x2="152.10" y2="97.36" stroke="#221a18" stroke-width="1.5" stroke-linecap="round" opacity="0.85"/>
<circle cx="156.49" cy="99.97" r="1.0" fill="#2e2622" opacity="0.8"/>
<circle cx="153.97" cy="94.98" r="1.5" fill="#3c3c3c" opacity="0.9"/>
<line x1="164.41" y1="93.17" x2="162.13" y2="88.61" stroke="#221a18" stroke-width="1.5" stroke-linecap="round" opacity="0.85"/>
<circle cx="164.41" cy="93.17" r="1.0" fill="#2e2622" opacity="0.8"/>
<circle cx="165.07" cy="87.55" r="1.5" fill="#3c3c3c" opacity="0.9"/>
<line x1="175.05" y1="91.40" x2="175.60" y2="86.33" stroke="#221a18" stroke-width="1.5" stroke-linecap="round" opacity="0.85"/>
<circle cx="175.05" cy="91.40" r="1.0" fill="#2e2622" opacity="0.8"/>
<circle cx="178.69" cy="86.94" r="1.5" fill="#3c3c3c" opacity="0.9"/>
<line x1="185.05" y1="95.22" x2="188.25" y2="91.25" stroke="#221a18" stroke-width="1.5" stroke-linecap="round" opacity="0.85"/>
<circle cx="185.05" cy="95.22" r="1.0" fill="#2e2622" opacity="0.8"/>
<circle cx="190.50" cy="93.32" r="1.5" fill="#3c3c3c" opacity="0.9"/>
<line x1="191.22" y1="103.41" x2="196.06" y2="101.80" stroke="#221a18" stroke-width="1.5" stroke-linecap="round" opacity="0.85"/>
<circle cx="191.22" cy="103.41" r="1.0" fill="#2e2622" opacity="0.8"/>
<circle cx="196.76" cy="104.69" r="1.5" fill="#3c3c3c" opacity="0.9"/>
<ellipse cx="153" cy="121" rx="3" ry="2.5" fill="#ffffff" opacity="0.6"/>
<ellipse cx="174.2" cy="111" rx="12.1" ry="12.7" fill="url(#cg9)"/>
<g clip-path="url(#ci9)">
<circle cx="172" cy="114" r="5" fill="#a07060" filter="url(#fs)"/>
<circle cx="178" cy="105" r="3" fill="#ece4e4" filter="url(#fs)"/>
</g>
<ellipse cx="174.2" cy="111" rx="12.1" ry="12.7" fill="none" stroke="#5a3830" stroke-width="0.8" opacity="0.5"/>
</g>
<rect x="147.45" y="85.85" width="49.90" height="46.50" fill="none" stroke="#0c0c0c" stroke-width="1.9"/>
<g clip-path="url(#cp10)">
<rect x="203.5" y="84.9" width="51.50" height="48.40" fill="#606060"/>
<circle cx="252" cy="90" r="8" fill="#c0c0c0" filter="url(#fb)"/>
<circle cx="210" cy="128" r="7" fill="#a0a0a0" filter="url(#fb)"/>
<ellipse cx="229.6" cy="108.7" rx="24" ry="21.6" fill="#f25a1c"/>
<line x1="245.97" y1="117.48" x2="250.32" y2="120.15" stroke="#221a18" stroke-width="1.5" stroke-linecap="round" opacity="0.85"/>
<circle cx="245.97" cy="117.48" r="1.0" fill="#2e2622" opacity="0.8"/>
<circle cx="248.42" cy="122.41" r="1.5" fill="#606060" opacity="0.9"/>
<line x1="237.94" y1="123.83" x2="240.16" y2="128.42" stroke="#221a18" stroke-width="1.5" stroke-linecap="round" opacity="0.85"/>
<circle cx="237.94" cy="123.83" r="1.0" fill="#2e2622" opacity="0.8"/>
<circle cx="237.20" cy="129.40" r="1.5" fill="#606060" opacity="0.9"/>
<line x1="227.27" y1="125.38" x2="226.65" y2="130.44" stroke="#221a18" stroke-width="1.5" stroke-linecap="round" opacity="0.85"/>
<circle cx="227.27" cy="125.38" r="1.0" fill="#2e2622" opacity="0.8"/>
<circle cx="223.58" cy="129.81" r="1.5" fill="#606060" opacity="0.9"/>
<line x1="217.34" y1="121.63" x2="214.08" y2="125.55" stroke="#221a18" stroke-width="1.5" stroke-linecap="round" opacity="0.85"/>
<circle cx="217.34" cy="121.63" r="1.0" fill="#2e2622" opacity="0.8"/>
<circle cx="211.86" cy="123.53" r="1.5" fill="#606060" opacity="0.9"/>
<line x1="211.30" y1="113.77" x2="206.43" y2="115.31" stroke="#221a18" stroke-width="1.5" stroke-linecap="round" opacity="0.85"/>
<circle cx="211.30" cy="113.77" r="1.0" fill="#2e2622" opacity="0.8"/>
<circle cx="205.78" cy="112.53" r="1.5" fill="#606060" opacity="0.9"/>
<line x1="211.07" y1="104.31" x2="206.14" y2="102.98" stroke="#221a18" stroke-width="1.5" stroke-linecap="round" opacity="0.85"/>
<circle cx="211.07" cy="104.31" r="1.0" fill="#2e2622" opacity="0.8"/>
<circle cx="207.26" cy="100.32" r="1.5" fill="#606060" opacity="0.9"/>
<line x1="216.72" y1="96.24" x2="213.30" y2="92.46" stroke="#221a18" stroke-width="1.5" stroke-linecap="round" opacity="0.85"/>
<circle cx="216.72" cy="96.24" r="1.0" fill="#2e2622" opacity="0.8"/>
<circle cx="215.83" cy="90.77" r="1.5" fill="#606060" opacity="0.9"/>
<line x1="226.47" y1="92.13" x2="225.63" y2="87.09" stroke="#221a18" stroke-width="1.5" stroke-linecap="round" opacity="0.85"/>
<circle cx="226.47" cy="92.13" r="1.0" fill="#2e2622" opacity="0.8"/>
<circle cx="228.78" cy="86.91" r="1.5" fill="#606060" opacity="0.9"/>
<line x1="237.20" y1="93.27" x2="239.22" y2="88.59" stroke="#221a18" stroke-width="1.5" stroke-linecap="round" opacity="0.85"/>
<circle cx="237.20" cy="93.27" r="1.0" fill="#2e2622" opacity="0.8"/>
<circle cx="241.98" cy="89.97" r="1.5" fill="#606060" opacity="0.9"/>
<line x1="245.53" y1="99.32" x2="249.76" y2="96.47" stroke="#221a18" stroke-width="1.5" stroke-linecap="round" opacity="0.85"/>
<circle cx="245.53" cy="99.32" r="1.0" fill="#2e2622" opacity="0.8"/>
<circle cx="251.26" cy="98.98" r="1.5" fill="#606060" opacity="0.9"/>
<line x1="248.80" y1="108.34" x2="253.89" y2="108.24" stroke="#221a18" stroke-width="1.5" stroke-linecap="round" opacity="0.85"/>
<circle cx="248.80" cy="108.34" r="1.0" fill="#2e2622" opacity="0.8"/>
<circle cx="253.66" cy="111.07" r="1.5" fill="#606060" opacity="0.9"/>
<ellipse cx="211" cy="118" rx="2" ry="2" fill="#ffffff" opacity="0.6"/>
<ellipse cx="229.6" cy="107.8" rx="12.1" ry="10.6" fill="url(#cg10)"/>
<g clip-path="url(#ci10)">
<circle cx="229" cy="108" r="5" fill="#d08858" filter="url(#fs)"/>
</g>
<ellipse cx="229.6" cy="107.8" rx="12.1" ry="10.6" fill="none" stroke="#5a3830" stroke-width="0.8" opacity="0.5"/>
</g>
<rect x="204.45" y="85.85" width="49.60" height="46.50" fill="none" stroke="#0c0c0c" stroke-width="1.9"/>
<g clip-path="url(#cp11)">
<rect x="260.0" y="84.9" width="51.20" height="48.70" fill="#3a3028"/>
<ellipse cx="285.8" cy="109" rx="24" ry="22.5" fill="#f24420"/>
<line x1="304.98" y1="109.88" x2="310.07" y2="110.14" stroke="#221a18" stroke-width="1.5" stroke-linecap="round" opacity="0.85"/>
<circle cx="304.98" cy="109.88" r="1.0" fill="#2e2622" opacity="0.8"/>
<circle cx="309.61" cy="113.06" r="1.5" fill="#3a3028" opacity="0.9"/>
<line x1="301.41" y1="119.30" x2="305.56" y2="122.27" stroke="#221a18" stroke-width="1.5" stroke-linecap="round" opacity="0.85"/>
<circle cx="301.41" cy="119.30" r="1.0" fill="#2e2622" opacity="0.8"/>
<circle cx="303.49" cy="124.49" r="1.5" fill="#3a3028" opacity="0.9"/>
<line x1="292.89" y1="125.45" x2="294.78" y2="130.19" stroke="#221a18" stroke-width="1.5" stroke-linecap="round" opacity="0.85"/>
<circle cx="292.89" cy="125.45" r="1.0" fill="#2e2622" opacity="0.8"/>
<circle cx="291.75" cy="131.00" r="1.5" fill="#3a3028" opacity="0.9"/>
<line x1="282.12" y1="126.37" x2="281.14" y2="131.38" stroke="#221a18" stroke-width="1.5" stroke-linecap="round" opacity="0.85"/>
<circle cx="282.12" cy="126.37" r="1.0" fill="#2e2622" opacity="0.8"/>
<circle cx="278.12" cy="130.53" r="1.5" fill="#3a3028" opacity="0.9"/>
<line x1="272.52" y1="121.78" x2="268.99" y2="125.46" stroke="#221a18" stroke-width="1.5" stroke-linecap="round" opacity="0.85"/>
<circle cx="272.52" cy="121.78" r="1.0" fill="#2e2622" opacity="0.8"/>
<circle cx="266.93" cy="123.22" r="1.5" fill="#3a3028" opacity="0.9"/>
<line x1="267.13" y1="113.13" x2="262.17" y2="114.32" stroke="#221a18" stroke-width="1.5" stroke-linecap="round" opacity="0.85"/>
<circle cx="267.13" cy="113.13" r="1.0" fill="#2e2622" opacity="0.8"/>
<circle cx="261.73" cy="111.39" r="1.5" fill="#3a3028" opacity="0.9"/>
<line x1="267.67" y1="103.17" x2="262.86" y2="101.49" stroke="#221a18" stroke-width="1.5" stroke-linecap="round" opacity="0.85"/>
<circle cx="267.67" cy="103.17" r="1.0" fill="#2e2622" opacity="0.8"/>
<circle cx="264.18" cy="98.81" r="1.5" fill="#3a3028" opacity="0.9"/>
<line x1="273.97" y1="95.06" x2="270.82" y2="91.04" stroke="#221a18" stroke-width="1.5" stroke-linecap="round" opacity="0.85"/>
<circle cx="273.97" cy="95.06" r="1.0" fill="#2e2622" opacity="0.8"/>
<circle cx="273.48" cy="89.46" r="1.5" fill="#3a3028" opacity="0.9"/>
<line x1="284.02" y1="91.38" x2="283.55" y2="86.30" stroke="#221a18" stroke-width="1.5" stroke-linecap="round" opacity="0.85"/>
<circle cx="284.02" cy="91.38" r="1.0" fill="#2e2622" opacity="0.8"/>
<circle cx="286.70" cy="86.32" r="1.5" fill="#3a3028" opacity="0.9"/>
<line x1="294.64" y1="93.29" x2="296.99" y2="88.76" stroke="#221a18" stroke-width="1.5" stroke-linecap="round" opacity="0.85"/>
<circle cx="294.64" cy="93.29" r="1.0" fill="#2e2622" opacity="0.8"/>
<circle cx="299.63" cy="90.37" r="1.5" fill="#3a3028" opacity="0.9"/>
<line x1="302.45" y1="100.19" x2="306.87" y2="97.65" stroke="#221a18" stroke-width="1.5" stroke-linecap="round" opacity="0.85"/>
<circle cx="302.45" cy="100.19" r="1.0" fill="#2e2622" opacity="0.8"/>
<circle cx="308.17" cy="100.34" r="1.5" fill="#3a3028" opacity="0.9"/>
<ellipse cx="285.5" cy="108.7" rx="12.7" ry="12.1" fill="url(#cg11)"/>
<g clip-path="url(#ci11)">
<circle cx="288" cy="111" r="5.5" fill="#e04040" filter="url(#fs)"/>
</g>
<ellipse cx="285.5" cy="108.7" rx="12.7" ry="12.1" fill="none" stroke="#5a3830" stroke-width="0.8" opacity="0.5"/>
</g>
<rect x="260.95" y="85.85" width="49.30" height="46.80" fill="none" stroke="#0c0c0c" stroke-width="1.9"/>
<g clip-path="url(#cp12)">
<rect x="315.1" y="84.8" width="50.50" height="47.50" fill="#5a5a5a"/>
<circle cx="320" cy="92" r="10" fill="#b0b0b0" filter="url(#fb)"/>
<ellipse cx="342.2" cy="109.3" rx="23.3" ry="22.2" fill="#f87428"/>
<line x1="359.58" y1="115.27" x2="364.37" y2="117.02" stroke="#221a18" stroke-width="1.5" stroke-linecap="round" opacity="0.85"/>
<circle cx="359.58" cy="115.27" r="1.0" fill="#2e2622" opacity="0.8"/>
<circle cx="363.04" cy="119.64" r="1.5" fill="#5a5a5a" opacity="0.9"/>
<line x1="353.39" y1="123.16" x2="356.47" y2="127.22" stroke="#221a18" stroke-width="1.5" stroke-linecap="round" opacity="0.85"/>
<circle cx="353.39" cy="123.16" r="1.0" fill="#2e2622" opacity="0.8"/>
<circle cx="353.87" cy="128.74" r="1.5" fill="#5a5a5a" opacity="0.9"/>
<line x1="343.65" y1="126.65" x2="344.05" y2="131.73" stroke="#221a18" stroke-width="1.5" stroke-linecap="round" opacity="0.85"/>
<circle cx="343.65" cy="126.65" r="1.0" fill="#2e2622" opacity="0.8"/>
<circle cx="340.99" cy="131.67" r="1.5" fill="#5a5a5a" opacity="0.9"/>
<line x1="333.45" y1="124.63" x2="331.03" y2="129.12" stroke="#221a18" stroke-width="1.5" stroke-linecap="round" opacity="0.85"/>
<circle cx="333.45" cy="124.63" r="1.0" fill="#2e2622" opacity="0.8"/>
<circle cx="328.49" cy="127.49" r="1.5" fill="#5a5a5a" opacity="0.9"/>
<line x1="326.03" y1="117.75" x2="321.57" y2="120.22" stroke="#221a18" stroke-width="1.5" stroke-linecap="round" opacity="0.85"/>
<circle cx="326.03" cy="117.75" r="1.0" fill="#2e2622" opacity="0.8"/>
<circle cx="320.35" cy="117.54" r="1.5" fill="#5a5a5a" opacity="0.9"/>
<line x1="323.74" y1="108.18" x2="318.65" y2="107.85" stroke="#221a18" stroke-width="1.5" stroke-linecap="round" opacity="0.85"/>
<circle cx="323.74" cy="108.18" r="1.0" fill="#2e2622" opacity="0.8"/>
<circle cx="319.14" cy="104.97" r="1.5" fill="#5a5a5a" opacity="0.9"/>
<line x1="327.31" y1="98.97" x2="323.21" y2="95.94" stroke="#221a18" stroke-width="1.5" stroke-linecap="round" opacity="0.85"/>
<circle cx="327.31" cy="98.97" r="1.0" fill="#2e2622" opacity="0.8"/>
<circle cx="325.26" cy="93.78" r="1.5" fill="#5a5a5a" opacity="0.9"/>
<line x1="335.61" y1="93.04" x2="333.80" y2="88.27" stroke="#221a18" stroke-width="1.5" stroke-linecap="round" opacity="0.85"/>
<circle cx="335.61" cy="93.04" r="1.0" fill="#2e2622" opacity="0.8"/>
<circle cx="336.75" cy="87.51" r="1.5" fill="#5a5a5a" opacity="0.9"/>
<line x1="346.01" y1="92.27" x2="347.06" y2="87.28" stroke="#221a18" stroke-width="1.5" stroke-linecap="round" opacity="0.85"/>
<circle cx="346.01" cy="92.27" r="1.0" fill="#2e2622" opacity="0.8"/>
<circle cx="349.97" cy="88.16" r="1.5" fill="#5a5a5a" opacity="0.9"/>
<line x1="355.19" y1="96.91" x2="358.77" y2="93.28" stroke="#221a18" stroke-width="1.5" stroke-linecap="round" opacity="0.85"/>
<circle cx="355.19" cy="96.91" r="1.0" fill="#2e2622" opacity="0.8"/>
<circle cx="360.73" cy="95.52" r="1.5" fill="#5a5a5a" opacity="0.9"/>
<line x1="360.25" y1="105.48" x2="365.22" y2="104.36" stroke="#221a18" stroke-width="1.5" stroke-linecap="round" opacity="0.85"/>
<circle cx="360.25" cy="105.48" r="1.0" fill="#2e2622" opacity="0.8"/>
<circle cx="365.60" cy="107.26" r="1.5" fill="#5a5a5a" opacity="0.9"/>
<ellipse cx="342.5" cy="110.1" rx="11.8" ry="11.8" fill="url(#cg12)"/>
<g clip-path="url(#ci12)">
<circle cx="340" cy="114" r="3" fill="#c09070" filter="url(#fs)"/>
</g>
<ellipse cx="342.5" cy="110.1" rx="11.8" ry="11.8" fill="none" stroke="#5a3830" stroke-width="0.8" opacity="0.5"/>
</g>
<rect x="315.80" y="85.50" width="49.10" height="46.10" fill="none" stroke="#0c0c0c" stroke-width="1.4"/>
<rect x="313.95" y="30.95" width="52.9" height="102.75" fill="none" stroke="#2858b8" stroke-width="2.2"/>
<polygon points="374.6,85.7 421.7,85.7 374.6,131.7" fill="#cdcbcb" stroke="#111" stroke-width="1.6" stroke-linejoin="miter" stroke-miterlimit="10"/>
<polygon points="320.4,67.6 334.9,59.8 330.9,75.9" fill="#fff" stroke="#111" stroke-width="1.1"/>
<polygon points="378.3,67.3 392.7,59.5 389.2,75" fill="#fff" stroke="#111" stroke-width="1.1"/>
<text x="6.50" y="164.60" font-size="11.4" text-anchor="start" fill="#222" style="stroke-width:0.3px">B</text>
<polygon points="43.30,316.90 43.30,181.20 61.82,230.05 80.34,256.38 98.86,266.69 117.38,276.05 135.90,281.08 154.42,290.85 172.94,306.18 191.46,315.41 209.98,316.90 228.50,316.90 228.50,316.90 228.50,316.9 43.30,316.9" fill="#d3d7d9"/>
<polygon points="43.30,181.20 61.82,230.05 80.34,256.38 98.86,266.69 117.38,276.05 135.90,281.08 154.42,290.85 172.94,306.18 191.46,315.41 209.98,316.90 228.50,316.90 228.50,316.90 209.98,311.06 191.46,299.26 172.94,286.64 154.42,263.03 135.90,249.05 117.38,236.02 98.86,226.93 80.34,217.16 61.82,200.74 43.30,181.20" fill="#f87a78"/>
<line x1="61.82" y1="197.54" x2="61.82" y2="203.94" stroke="#a11c1c" stroke-width="1.1" />
<line x1="59.22" y1="197.54" x2="64.42" y2="197.54" stroke="#a11c1c" stroke-width="1.1" />
<line x1="59.22" y1="203.94" x2="64.42" y2="203.94" stroke="#a11c1c" stroke-width="1.1" />
<line x1="80.34" y1="212.66" x2="80.34" y2="221.66" stroke="#a11c1c" stroke-width="1.1" />
<line x1="77.74" y1="212.66" x2="82.94" y2="212.66" stroke="#a11c1c" stroke-width="1.1" />
<line x1="77.74" y1="221.66" x2="82.94" y2="221.66" stroke="#a11c1c" stroke-width="1.1" />
<line x1="98.86" y1="222.13" x2="98.86" y2="231.73" stroke="#a11c1c" stroke-width="1.1" />
<line x1="96.26" y1="222.13" x2="101.46" y2="222.13" stroke="#a11c1c" stroke-width="1.1" />
<line x1="96.26" y1="231.73" x2="101.46" y2="231.73" stroke="#a11c1c" stroke-width="1.1" />
<line x1="117.38" y1="230.02" x2="117.38" y2="242.02" stroke="#a11c1c" stroke-width="1.1" />
<line x1="114.78" y1="230.02" x2="119.98" y2="230.02" stroke="#a11c1c" stroke-width="1.1" />
<line x1="114.78" y1="242.02" x2="119.98" y2="242.02" stroke="#a11c1c" stroke-width="1.1" />
<line x1="135.90" y1="242.05" x2="135.90" y2="256.05" stroke="#a11c1c" stroke-width="1.1" />
<line x1="133.30" y1="242.05" x2="138.50" y2="242.05" stroke="#a11c1c" stroke-width="1.1" />
<line x1="133.30" y1="256.05" x2="138.50" y2="256.05" stroke="#a11c1c" stroke-width="1.1" />
<line x1="154.42" y1="261.23" x2="154.42" y2="264.83" stroke="#a11c1c" stroke-width="1.1" />
<line x1="151.82" y1="261.23" x2="157.02" y2="261.23" stroke="#a11c1c" stroke-width="1.1" />
<line x1="151.82" y1="264.83" x2="157.02" y2="264.83" stroke="#a11c1c" stroke-width="1.1" />
<line x1="172.94" y1="279.34" x2="172.94" y2="293.94" stroke="#a11c1c" stroke-width="1.1" />
<line x1="170.34" y1="279.34" x2="175.54" y2="279.34" stroke="#a11c1c" stroke-width="1.1" />
<line x1="170.34" y1="293.94" x2="175.54" y2="293.94" stroke="#a11c1c" stroke-width="1.1" />
<line x1="191.46" y1="292.96" x2="191.46" y2="305.56" stroke="#a11c1c" stroke-width="1.1" />
<line x1="188.86" y1="292.96" x2="194.06" y2="292.96" stroke="#a11c1c" stroke-width="1.1" />
<line x1="188.86" y1="305.56" x2="194.06" y2="305.56" stroke="#a11c1c" stroke-width="1.1" />
<line x1="209.98" y1="308.66" x2="209.98" y2="313.46" stroke="#a11c1c" stroke-width="1.1" />
<line x1="207.38" y1="308.66" x2="212.58" y2="308.66" stroke="#a11c1c" stroke-width="1.1" />
<line x1="207.38" y1="313.46" x2="212.58" y2="313.46" stroke="#a11c1c" stroke-width="1.1" />
<line x1="61.82" y1="226.15" x2="61.82" y2="233.95" stroke="#1c5cae" stroke-width="1.1" />
<line x1="59.22" y1="226.15" x2="64.42" y2="226.15" stroke="#1c5cae" stroke-width="1.1" />
<line x1="59.22" y1="233.95" x2="64.42" y2="233.95" stroke="#1c5cae" stroke-width="1.1" />
<line x1="80.34" y1="254.58" x2="80.34" y2="258.18" stroke="#1c5cae" stroke-width="1.1" />
<line x1="77.74" y1="254.58" x2="82.94" y2="254.58" stroke="#1c5cae" stroke-width="1.1" />
<line x1="77.74" y1="258.18" x2="82.94" y2="258.18" stroke="#1c5cae" stroke-width="1.1" />
<line x1="98.86" y1="263.49" x2="98.86" y2="269.89" stroke="#1c5cae" stroke-width="1.1" />
<line x1="96.26" y1="263.49" x2="101.46" y2="263.49" stroke="#1c5cae" stroke-width="1.1" />
<line x1="96.26" y1="269.89" x2="101.46" y2="269.89" stroke="#1c5cae" stroke-width="1.1" />
<line x1="117.38" y1="274.05" x2="117.38" y2="278.05" stroke="#1c5cae" stroke-width="1.1" />
<line x1="114.78" y1="274.05" x2="119.98" y2="274.05" stroke="#1c5cae" stroke-width="1.1" />
<line x1="114.78" y1="278.05" x2="119.98" y2="278.05" stroke="#1c5cae" stroke-width="1.1" />
<line x1="135.90" y1="277.88" x2="135.90" y2="284.28" stroke="#1c5cae" stroke-width="1.1" />
<line x1="133.30" y1="277.88" x2="138.50" y2="277.88" stroke="#1c5cae" stroke-width="1.1" />
<line x1="133.30" y1="284.28" x2="138.50" y2="284.28" stroke="#1c5cae" stroke-width="1.1" />
<line x1="154.42" y1="286.25" x2="154.42" y2="295.45" stroke="#1c5cae" stroke-width="1.1" />
<line x1="151.82" y1="286.25" x2="157.02" y2="286.25" stroke="#1c5cae" stroke-width="1.1" />
<line x1="151.82" y1="295.45" x2="157.02" y2="295.45" stroke="#1c5cae" stroke-width="1.1" />
<line x1="172.94" y1="301.38" x2="172.94" y2="310.98" stroke="#1c5cae" stroke-width="1.1" />
<line x1="170.34" y1="301.38" x2="175.54" y2="301.38" stroke="#1c5cae" stroke-width="1.1" />
<line x1="170.34" y1="310.98" x2="175.54" y2="310.98" stroke="#1c5cae" stroke-width="1.1" />
<line x1="191.46" y1="314.41" x2="191.46" y2="316.41" stroke="#1c5cae" stroke-width="1.1" />
<line x1="188.86" y1="314.41" x2="194.06" y2="314.41" stroke="#1c5cae" stroke-width="1.1" />
<line x1="188.86" y1="316.41" x2="194.06" y2="316.41" stroke="#1c5cae" stroke-width="1.1" />
<polyline points="43.30,181.20 61.82,200.74 80.34,217.16 98.86,226.93 117.38,236.02 135.90,249.05 154.42,263.03 172.94,286.64 191.46,299.26 209.98,311.06 228.50,316.90" fill="none" stroke="#a11c1c" stroke-width="1.7" stroke-linejoin="round"/>
<polyline points="43.30,181.20 61.82,230.05 80.34,256.38 98.86,266.69 117.38,276.05 135.90,281.08 154.42,290.85 172.94,306.18 191.46,315.41 209.98,316.90 228.50,316.90" fill="none" stroke="#1d5a9e" stroke-width="1.7" stroke-linejoin="round"/>
<line x1="33.60" y1="180.50" x2="33.60" y2="317.80" stroke="#1a1a1a" stroke-width="1.8" />
<line x1="33.60" y1="317.00" x2="238.30" y2="317.00" stroke="#1a1a1a" stroke-width="1.8" />
<line x1="30.60" y1="316.90" x2="33.50" y2="316.90" stroke="#222" stroke-width="1.3" />
<text x="25.90" y="318.10" font-size="8.6" text-anchor="end" fill="#222" >0</text>
<line x1="30.60" y1="289.76" x2="33.50" y2="289.76" stroke="#222" stroke-width="1.3" />
<text x="25.90" y="291.36" font-size="8.6" text-anchor="end" fill="#222" >20</text>
<line x1="30.60" y1="262.62" x2="33.50" y2="262.62" stroke="#222" stroke-width="1.3" />
<text x="25.90" y="263.82" font-size="8.6" text-anchor="end" fill="#222" >40</text>
<line x1="30.60" y1="235.48" x2="33.50" y2="235.48" stroke="#222" stroke-width="1.3" />
<text x="25.90" y="236.48" font-size="8.6" text-anchor="end" fill="#222" >60</text>
<line x1="30.60" y1="208.34" x2="33.50" y2="208.34" stroke="#222" stroke-width="1.3" />
<text x="25.90" y="209.14" font-size="8.6" text-anchor="end" fill="#222" >80</text>
<line x1="30.60" y1="181.20" x2="33.50" y2="181.20" stroke="#222" stroke-width="1.3" />
<text x="25.90" y="181.60" font-size="8.6" text-anchor="end" fill="#222" >100</text>
<line x1="43.30" y1="316.90" x2="43.30" y2="320.20" stroke="#222" stroke-width="1.3" />
<text x="43.30" y="327.20" font-size="8.6" text-anchor="middle" fill="#222" >0</text>
<line x1="61.82" y1="316.90" x2="61.82" y2="320.20" stroke="#222" stroke-width="1.3" />
<text x="61.82" y="327.20" font-size="8.6" text-anchor="middle" fill="#222" >1</text>
<line x1="80.34" y1="316.90" x2="80.34" y2="320.20" stroke="#222" stroke-width="1.3" />
<text x="80.34" y="327.20" font-size="8.6" text-anchor="middle" fill="#222" >2</text>
<line x1="98.86" y1="316.90" x2="98.86" y2="320.20" stroke="#222" stroke-width="1.3" />
<text x="98.86" y="327.20" font-size="8.6" text-anchor="middle" fill="#222" >3</text>
<line x1="117.38" y1="316.90" x2="117.38" y2="320.20" stroke="#222" stroke-width="1.3" />
<text x="117.38" y="327.20" font-size="8.6" text-anchor="middle" fill="#222" >4</text>
<line x1="135.90" y1="316.90" x2="135.90" y2="320.20" stroke="#222" stroke-width="1.3" />
<text x="135.90" y="327.20" font-size="8.6" text-anchor="middle" fill="#222" >5</text>
<line x1="154.42" y1="316.90" x2="154.42" y2="320.20" stroke="#222" stroke-width="1.3" />
<text x="154.42" y="327.20" font-size="8.6" text-anchor="middle" fill="#222" >6</text>
<line x1="172.94" y1="316.90" x2="172.94" y2="320.20" stroke="#222" stroke-width="1.3" />
<text x="172.94" y="327.20" font-size="8.6" text-anchor="middle" fill="#222" >7</text>
<line x1="191.46" y1="316.90" x2="191.46" y2="320.20" stroke="#222" stroke-width="1.3" />
<text x="191.46" y="327.20" font-size="8.6" text-anchor="middle" fill="#222" >8</text>
<line x1="209.98" y1="316.90" x2="209.98" y2="320.20" stroke="#222" stroke-width="1.3" />
<text x="209.98" y="327.20" font-size="8.6" text-anchor="middle" fill="#222" >9</text>
<line x1="228.50" y1="316.90" x2="228.50" y2="320.20" stroke="#222" stroke-width="1.3" />
<text x="228.50" y="327.20" font-size="8.6" text-anchor="middle" fill="#222" >10</text>
<text x="119.50" y="341.20" font-size="8.4" text-anchor="start" fill="#222" >Days</text>
<text x="0" y="0" font-size="8.6" text-anchor="middle" fill="#222" transform="translate(8.40,244.80) rotate(-90)" dy="3.01">Wounded area (%)</text>
<rect x="152.4" y="186.9" width="11.4" height="10.0" rx="1.5" fill="#c4c4c4" stroke="#222" stroke-width="1.2"/>
<rect x="152.4" y="204.6" width="11.4" height="9.6" rx="1.5" fill="#f06a6a" stroke="#222" stroke-width="1.2"/>
<text x="173.90" y="194.60" font-size="8.8" text-anchor="start" fill="#222" >NAC</text>
<text x="174.00" y="211.70" font-size="8.8" text-anchor="start" fill="#222" >Vehicle</text>
<text x="183.60" y="245.30" font-size="8.8" text-anchor="start" fill="#222" style="stroke-width:0.1px"><tspan font-size="7.6">**</tspan><tspan font-style="italic">p</tspan> &lt; 0.01</text>
<text x="241.90" y="164.80" font-size="12" text-anchor="start" fill="#222" style="stroke-width:0.3px">C</text>
<line x1="292.30" y1="186.00" x2="292.30" y2="296.90" stroke="#1a1a1a" stroke-width="1.9" />
<line x1="292.30" y1="296.00" x2="456.60" y2="296.00" stroke="#1a1a1a" stroke-width="1.9" />
<line x1="289.20" y1="276.15" x2="292.20" y2="276.15" stroke="#222" stroke-width="1.3" />
<text x="287.20" y="280.15" font-size="8.8" text-anchor="end" fill="#222" >200</text>
<line x1="289.20" y1="246.37" x2="292.20" y2="246.37" stroke="#222" stroke-width="1.3" />
<text x="287.20" y="250.37" font-size="8.8" text-anchor="end" fill="#222" >500</text>
<line x1="289.20" y1="216.58" x2="292.20" y2="216.58" stroke="#222" stroke-width="1.3" />
<text x="287.20" y="220.58" font-size="8.8" text-anchor="end" fill="#222" >800</text>
<line x1="289.20" y1="186.80" x2="292.20" y2="186.80" stroke="#222" stroke-width="1.3" />
<text x="287.20" y="190.80" font-size="8.8" text-anchor="end" fill="#222" >1100</text>
<line x1="339.80" y1="296.00" x2="339.80" y2="299.70" stroke="#222" stroke-width="1.3" />
<line x1="410.10" y1="296.00" x2="410.10" y2="299.70" stroke="#222" stroke-width="1.3" />
<text x="340.00" y="311.80" font-size="8.8" text-anchor="middle" fill="#222" >Vehicle</text>
<text x="411.40" y="311.80" font-size="8.8" text-anchor="middle" fill="#222" >NAC</text>
<text x="0" y="0" font-size="8.7" text-anchor="middle" fill="#222" transform="translate(259.30,237.10) rotate(-90)" dy="3.04">Epithelial tongue (μm)</text>
<line x1="316.50" y1="251.40" x2="363.00" y2="251.40" stroke="#b8c4d8" stroke-width="0.9" />
<line x1="339.50" y1="247.00" x2="339.50" y2="255.90" stroke="#8a9cc0" stroke-width="1.0" />
<line x1="328.50" y1="255.90" x2="350.30" y2="255.90" stroke="#8a9cc0" stroke-width="1.0" />
<line x1="386.50" y1="205.20" x2="433.80" y2="205.20" stroke="#888" stroke-width="1.1" />
<line x1="397.80" y1="194.30" x2="422.60" y2="194.30" stroke="#f4c4c4" stroke-width="0.8" />
<line x1="397.80" y1="214.80" x2="422.60" y2="214.80" stroke="#f8d8d8" stroke-width="0.8" />
<polygon points="339.50,222.70 342.80,226.00 339.50,229.30 336.20,226.00" fill="#2255b0"/>
<polygon points="354.40,237.70 357.70,241.00 354.40,244.30 351.10,241.00" fill="#2255b0"/>
<polygon points="319.50,244.40 322.80,247.70 319.50,251.00 316.20,247.70" fill="#2255b0"/>
<polygon points="329.60,246.70 332.90,250.00 329.60,253.30 326.30,250.00" fill="#2255b0"/>
<polygon points="334.60,249.00 337.90,252.30 334.60,255.60 331.30,252.30" fill="#2255b0"/>
<polygon points="344.60,245.50 347.90,248.80 344.60,252.10 341.30,248.80" fill="#2255b0"/>
<polygon points="349.60,256.70 352.90,260.00 349.60,263.30 346.30,260.00" fill="#2255b0"/>
<polygon points="344.60,265.50 347.90,268.80 344.60,272.10 341.30,268.80" fill="#2255b0"/>
<polygon points="334.60,267.60 337.90,270.90 334.60,274.20 331.30,270.90" fill="#2255b0"/>
<polygon points="407.30,191.20 412.90,191.20 410.10,196.40" fill="#ff2a2a"/>
<polygon points="403.20,198.00 408.80,198.00 406.00,203.20" fill="#ff2a2a"/>
<polygon points="411.50,202.20 417.10,202.20 414.30,207.40" fill="#ff2a2a"/>
<polygon points="411.50,212.70 417.10,212.70 414.30,217.90" fill="#ff2a2a"/>
<polygon points="403.20,216.00 408.80,216.00 406.00,221.20" fill="#ff2a2a"/>
<polygon points="399.00,231.80 404.60,231.80 401.80,237.00" fill="#ff2a2a"/>
<polygon points="407.50,231.80 413.10,231.80 410.30,237.00" fill="#ff2a2a"/>
<polygon points="415.70,229.70 421.30,229.70 418.50,234.90" fill="#ff2a2a"/>
<polygon points="407.50,250.30 413.10,250.30 410.30,255.50" fill="#ff2a2a"/>
<text x="401.00" y="275.90" font-size="8.8" text-anchor="start" fill="#222" style="stroke-width:0.1px"><tspan font-size="7.6">**</tspan><tspan font-style="italic">p</tspan> &lt; 0.01</text>
<text x="6.90" y="370.70" font-size="11.5" text-anchor="start" fill="#222" style="stroke-width:0.3px">D</text>
<line x1="33.90" y1="406.30" x2="33.90" y2="532.40" stroke="#1a1a1a" stroke-width="1.8" />
<line x1="33.90" y1="531.50" x2="117.30" y2="531.50" stroke="#1a1a1a" stroke-width="1.8" />
<line x1="30.90" y1="531.50" x2="33.90" y2="531.50" stroke="#222" stroke-width="1.3" />
<text x="30.20" y="534.60" font-size="8.6" text-anchor="end" fill="#222" >0</text>
<line x1="30.90" y1="506.60" x2="33.90" y2="506.60" stroke="#222" stroke-width="1.3" />
<text x="30.20" y="509.70" font-size="8.6" text-anchor="end" fill="#222" >5</text>
<line x1="30.90" y1="481.70" x2="33.90" y2="481.70" stroke="#222" stroke-width="1.3" />
<text x="30.20" y="484.80" font-size="8.6" text-anchor="end" fill="#222" >10</text>
<line x1="30.90" y1="456.80" x2="33.90" y2="456.80" stroke="#222" stroke-width="1.3" />
<text x="30.20" y="459.90" font-size="8.6" text-anchor="end" fill="#222" >15</text>
<line x1="30.90" y1="431.90" x2="33.90" y2="431.90" stroke="#222" stroke-width="1.3" />
<text x="30.20" y="435.00" font-size="8.6" text-anchor="end" fill="#222" >20</text>
<line x1="30.90" y1="407.00" x2="33.90" y2="407.00" stroke="#222" stroke-width="1.3" />
<text x="30.20" y="410.10" font-size="8.6" text-anchor="end" fill="#222" >25</text>
<rect x="45.60" y="475.30" width="24.00" height="56.20" fill="#fff" stroke="#111" stroke-width="1.6"/>
<line x1="57.60" y1="475.30" x2="57.60" y2="470.40" stroke="#222" stroke-width="1.3" />
<line x1="51.80" y1="470.40" x2="63.20" y2="470.40" stroke="#222" stroke-width="1.3" />
<line x1="57.60" y1="531.50" x2="57.60" y2="534.70" stroke="#222" stroke-width="1.3" />
<rect x="81.60" y="421.50" width="23.70" height="110.00" fill="#d6d6d6" stroke="#111" stroke-width="1.6"/>
<line x1="93.45" y1="421.50" x2="93.45" y2="414.80" stroke="#222" stroke-width="1.3" />
<line x1="87.20" y1="414.80" x2="99.40" y2="414.80" stroke="#222" stroke-width="1.3" />
<line x1="93.45" y1="531.50" x2="93.45" y2="534.70" stroke="#222" stroke-width="1.3" />
<polyline points="57.50,466.00 57.50,404.10 94.30,404.10 94.30,410.90" fill="none" stroke="#111" stroke-width="1.6"/>
<text x="75.70" y="396.30" font-size="8.0" text-anchor="middle" fill="#222" style="stroke-width:0.05px">***</text>
<text x="0" y="0" font-size="8.65" text-anchor="middle" fill="#222" transform="translate(11.40,472.00) rotate(-90)" dy="3.03">BrDU+ cells (%)</text>
<text x="58.20" y="545.50" font-size="8.5" text-anchor="middle" fill="#222" >Vehicle</text>
<text x="94.20" y="545.50" font-size="8.5" text-anchor="middle" fill="#222" >NAC</text>
<text x="124.60" y="370.80" font-size="11.5" text-anchor="start" fill="#222" style="stroke-width:0.3px">E</text>
<line x1="149.50" y1="409.20" x2="149.50" y2="532.60" stroke="#1a1a1a" stroke-width="1.8" />
<line x1="149.50" y1="531.70" x2="230.50" y2="531.70" stroke="#1a1a1a" stroke-width="1.8" />
<line x1="146.50" y1="531.70" x2="149.50" y2="531.70" stroke="#222" stroke-width="1.3" />
<text x="144.00" y="535.70" font-size="8.6" text-anchor="end" fill="#222" >0</text>
<line x1="146.50" y1="491.10" x2="149.50" y2="491.10" stroke="#222" stroke-width="1.3" />
<text x="144.00" y="495.10" font-size="8.6" text-anchor="end" fill="#222" >1</text>
<line x1="146.50" y1="450.50" x2="149.50" y2="450.50" stroke="#222" stroke-width="1.3" />
<text x="144.00" y="454.50" font-size="8.6" text-anchor="end" fill="#222" >2</text>
<line x1="146.50" y1="409.90" x2="149.50" y2="409.90" stroke="#222" stroke-width="1.3" />
<text x="144.00" y="413.90" font-size="8.6" text-anchor="end" fill="#222" >3</text>
<rect x="162.10" y="441.20" width="22.30" height="90.50" fill="#fff" stroke="#111" stroke-width="1.6"/>
<line x1="173.25" y1="441.20" x2="173.25" y2="431.60" stroke="#222" stroke-width="1.3" />
<line x1="166.90" y1="431.60" x2="179.40" y2="431.60" stroke="#222" stroke-width="1.3" />
<line x1="173.25" y1="531.70" x2="173.25" y2="534.90" stroke="#222" stroke-width="1.3" />
<rect x="197.30" y="497.10" width="21.80" height="34.60" fill="#d6d6d6" stroke="#111" stroke-width="1.6"/>
<line x1="208.20" y1="497.10" x2="208.20" y2="489.40" stroke="#222" stroke-width="1.3" />
<line x1="203.20" y1="489.40" x2="214.40" y2="489.40" stroke="#222" stroke-width="1.3" />
<line x1="208.20" y1="531.70" x2="208.20" y2="534.90" stroke="#222" stroke-width="1.3" />
<polyline points="173.20,423.50 173.20,403.20 208.40,403.20 208.40,469.00" fill="none" stroke="#111" stroke-width="1.6"/>
<text x="191.70" y="396.30" font-size="8.0" text-anchor="middle" fill="#222" style="stroke-width:0.05px">***</text>
<text x="0" y="0" font-size="8.9" text-anchor="middle" fill="#222" transform="translate(130.70,467.40) rotate(-90)" dy="3.11">MVD</text>
<text x="175.50" y="543.00" font-size="8.5" text-anchor="middle" fill="#222" >Vehicle</text>
<text x="211.50" y="543.00" font-size="8.5" text-anchor="middle" fill="#222" >NAC</text>
<text x="236.60" y="370.80" font-size="11.5" text-anchor="start" fill="#222" style="stroke-width:0.3px">F</text>
<line x1="262.80" y1="405.80" x2="262.80" y2="531.70" stroke="#1a1a1a" stroke-width="1.8" />
<line x1="262.80" y1="530.80" x2="346.20" y2="530.80" stroke="#1a1a1a" stroke-width="1.8" />
<line x1="259.80" y1="530.80" x2="262.80" y2="530.80" stroke="#222" stroke-width="1.3" />
<text x="258.80" y="534.20" font-size="8.6" text-anchor="end" fill="#222" >0</text>
<line x1="259.80" y1="499.80" x2="262.80" y2="499.80" stroke="#222" stroke-width="1.3" />
<text x="258.80" y="503.20" font-size="8.6" text-anchor="end" fill="#222" >10</text>
<line x1="259.80" y1="468.80" x2="262.80" y2="468.80" stroke="#222" stroke-width="1.3" />
<text x="258.80" y="472.20" font-size="8.6" text-anchor="end" fill="#222" >20</text>
<line x1="259.80" y1="437.80" x2="262.80" y2="437.80" stroke="#222" stroke-width="1.3" />
<text x="258.80" y="441.20" font-size="8.6" text-anchor="end" fill="#222" >30</text>
<line x1="259.80" y1="406.80" x2="262.80" y2="406.80" stroke="#222" stroke-width="1.3" />
<text x="258.80" y="410.20" font-size="8.6" text-anchor="end" fill="#222" >40</text>
<rect x="275.40" y="497.00" width="23.60" height="33.80" fill="#fff" stroke="#111" stroke-width="1.6"/>
<line x1="287.20" y1="497.00" x2="287.20" y2="483.10" stroke="#222" stroke-width="1.3" />
<line x1="280.80" y1="483.10" x2="293.80" y2="483.10" stroke="#222" stroke-width="1.3" />
<line x1="287.20" y1="530.80" x2="287.20" y2="534.00" stroke="#222" stroke-width="1.3" />
<rect x="310.80" y="432.50" width="24.10" height="98.30" fill="#d6d6d6" stroke="#111" stroke-width="1.6"/>
<line x1="322.85" y1="432.50" x2="322.85" y2="410.30" stroke="#222" stroke-width="1.3" />
<line x1="316.80" y1="410.30" x2="329.00" y2="410.30" stroke="#222" stroke-width="1.3" />
<line x1="322.85" y1="530.80" x2="322.85" y2="534.00" stroke="#222" stroke-width="1.3" />
<polyline points="287.00,480.80 287.00,397.00 322.60,397.00 322.60,406.10" fill="none" stroke="#111" stroke-width="1.6"/>
<text x="304.60" y="396.00" font-size="8.5" text-anchor="middle" fill="#222" style="stroke-width:0.05px">*</text>
<text x="0" y="0" font-size="8.75" text-anchor="middle" fill="#222" transform="translate(240.80,462.70) rotate(-90)" dy="3.06">p-Sirt1+ cells (%)</text>
<text x="287.40" y="543.80" font-size="8.5" text-anchor="middle" fill="#222" >Vehicle</text>
<text x="323.90" y="543.80" font-size="8.5" text-anchor="middle" fill="#222" >NAC</text>
<text x="351.30" y="370.80" font-size="11.5" text-anchor="start" fill="#222" style="stroke-width:0.3px">G</text>
<line x1="377.90" y1="408.00" x2="377.90" y2="532.70" stroke="#1a1a1a" stroke-width="1.8" />
<line x1="377.90" y1="531.80" x2="459.80" y2="531.80" stroke="#1a1a1a" stroke-width="1.8" />
<line x1="374.90" y1="531.80" x2="377.90" y2="531.80" stroke="#222" stroke-width="1.3" />
<text x="374.20" y="536.00" font-size="8.6" text-anchor="end" fill="#222" >0</text>
<line x1="374.90" y1="507.17" x2="377.90" y2="507.17" stroke="#222" stroke-width="1.3" />
<text x="374.20" y="511.37" font-size="8.6" text-anchor="end" fill="#222" >20</text>
<line x1="374.90" y1="482.54" x2="377.90" y2="482.54" stroke="#222" stroke-width="1.3" />
<text x="374.20" y="486.74" font-size="8.6" text-anchor="end" fill="#222" >40</text>
<line x1="374.90" y1="457.91" x2="377.90" y2="457.91" stroke="#222" stroke-width="1.3" />
<text x="374.20" y="462.11" font-size="8.6" text-anchor="end" fill="#222" >60</text>
<line x1="374.90" y1="433.28" x2="377.90" y2="433.28" stroke="#222" stroke-width="1.3" />
<text x="374.20" y="437.48" font-size="8.6" text-anchor="end" fill="#222" >80</text>
<line x1="374.90" y1="408.65" x2="377.90" y2="408.65" stroke="#222" stroke-width="1.3" />
<text x="374.20" y="412.85" font-size="8.6" text-anchor="end" fill="#222" >100</text>
<rect x="389.60" y="430.30" width="24.10" height="101.50" fill="#fff" stroke="#111" stroke-width="1.6"/>
<line x1="401.65" y1="430.30" x2="401.65" y2="424.60" stroke="#222" stroke-width="1.3" />
<line x1="395.60" y1="424.60" x2="407.50" y2="424.60" stroke="#222" stroke-width="1.3" />
<line x1="401.65" y1="531.80" x2="401.65" y2="535.00" stroke="#222" stroke-width="1.3" />
<rect x="425.00" y="431.60" width="23.90" height="100.20" fill="#d6d6d6" stroke="#111" stroke-width="1.6"/>
<line x1="436.95" y1="431.60" x2="436.95" y2="427.60" stroke="#222" stroke-width="1.3" />
<line x1="431.20" y1="427.60" x2="442.70" y2="427.60" stroke="#222" stroke-width="1.3" />
<line x1="436.95" y1="531.80" x2="436.95" y2="535.00" stroke="#222" stroke-width="1.3" />
<text x="0" y="0" font-size="8.9" text-anchor="middle" fill="#222" transform="translate(354.70,470.20) rotate(-90)" dy="3.11">Romo1+ cells (%)</text>
<text x="402.50" y="545.30" font-size="8.5" text-anchor="middle" fill="#222" >Vehicle</text>
<text x="438.50" y="545.30" font-size="8.5" text-anchor="middle" fill="#222" >NAC</text>
<line x1="400.50" y1="418.40" x2="437.40" y2="418.40" stroke="#111" stroke-width="1.6" />
<text x="416.30" y="412.90" font-size="8.2" text-anchor="middle" fill="#222" >ns</text>
</g>
</svg>
</body></html>
